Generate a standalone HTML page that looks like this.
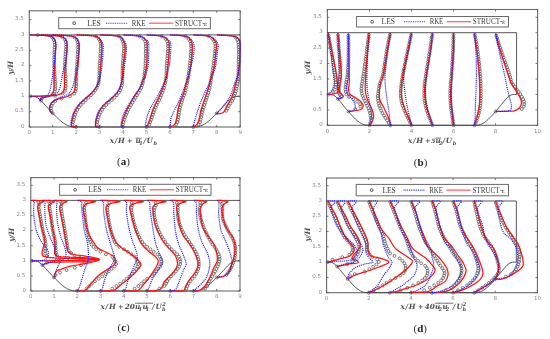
<!DOCTYPE html>
<html><head><meta charset="utf-8"><style>
html,body{margin:0;padding:0;background:#fff;}
svg{display:block;}
.tl{font-family:"DejaVu Sans",sans-serif;font-size:5.5px;fill:#888;}
.tk{stroke:#555;stroke-width:0.8;fill:none;}
.fr{fill:none;stroke:#6a6a6a;stroke-width:1.1;}
.hill{fill:none;stroke:#3a3a3a;stroke-width:0.85;}
.lg{fill:#fff;stroke:#6a6a6a;stroke-width:1;}
.lgr{fill:none;stroke:#ff2a2a;stroke-width:0.95;}
.lgb{fill:none;stroke:#2020ff;stroke-width:1.05;stroke-dasharray:0.9 0.9;}
.lgc{fill:none;stroke:#333;stroke-width:0.8;}
.lt{font-family:"Liberation Serif",serif;font-size:7.3px;fill:#3a3a3a;}
.eps{font-size:6px;font-family:"DejaVu Serif",serif;}
.les circle{fill:none;stroke:#505050;stroke-width:0.72;}
.rke{fill:none;stroke:#2020ff;stroke-width:1.2;stroke-dasharray:1.1 0.9;}
.str{fill:none;stroke:#ff1010;stroke-width:1.25;}
.ax{font-family:"DejaVu Serif",serif;font-style:italic;font-weight:bold;font-size:7.2px;fill:#505050;}
.yl{font-size:7.3px;}
.ol{stroke:#3a3a3a;stroke-width:0.7;fill:none;}
.pn{font-weight:normal;fill:#333;}
.cap{font-family:"Liberation Serif",serif;font-weight:bold;font-size:11px;fill:#222;}
</style></head>
<body><svg width="550" height="339" viewBox="0 0 550 339">
<rect x="29.3" y="10.8" width="210.9" height="116.2" class="fr"/>
<text x="29.3" y="134.3" class="tl" text-anchor="middle">0</text>
<text x="52.73" y="134.3" class="tl" text-anchor="middle">1</text>
<text x="76.17" y="134.3" class="tl" text-anchor="middle">2</text>
<text x="99.6" y="134.3" class="tl" text-anchor="middle">3</text>
<text x="123.03" y="134.3" class="tl" text-anchor="middle">4</text>
<text x="146.47" y="134.3" class="tl" text-anchor="middle">5</text>
<text x="169.9" y="134.3" class="tl" text-anchor="middle">6</text>
<text x="193.33" y="134.3" class="tl" text-anchor="middle">7</text>
<text x="216.77" y="134.3" class="tl" text-anchor="middle">8</text>
<text x="240.2" y="134.3" class="tl" text-anchor="middle">9</text>
<text x="24.6" y="127.8" class="tl" text-anchor="end">0</text>
<text x="23.7" y="112.45" class="tl" text-anchor="end">0.5</text>
<text x="24.6" y="97.1" class="tl" text-anchor="end">1</text>
<text x="23.7" y="81.75" class="tl" text-anchor="end">1.5</text>
<text x="24.6" y="66.4" class="tl" text-anchor="end">2</text>
<text x="23.7" y="51.05" class="tl" text-anchor="end">2.5</text>
<text x="24.6" y="35.7" class="tl" text-anchor="end">3</text>
<text x="23.7" y="20.35" class="tl" text-anchor="end">3.5</text>
<path d="M29.3 127v-2M29.3 10.8v2M52.73 127v-2M52.73 10.8v2M76.17 127v-2M76.17 10.8v2M99.6 127v-2M99.6 10.8v2M123.03 127v-2M123.03 10.8v2M146.47 127v-2M146.47 10.8v2M169.9 127v-2M169.9 10.8v2M193.33 127v-2M193.33 10.8v2M216.77 127v-2M216.77 10.8v2M240.2 127v-2M240.2 10.8v2M29.3 127h2M240.2 127h-2M29.3 111.65h2M240.2 111.65h-2M29.3 96.3h2M240.2 96.3h-2M29.3 80.95h2M240.2 80.95h-2M29.3 65.6h2M240.2 65.6h-2M29.3 50.25h2M240.2 50.25h-2M29.3 34.9h2M240.2 34.9h-2M29.3 19.55h2M240.2 19.55h-2" class="tk"/>
<path d="M29.3 96.3 L31.41 96.3 L33.52 96.41 L35.63 96.88 L37.74 97.93 L39.84 99.57 L41.95 101.65 L44.06 103.95 L46.17 106.32 L48.28 108.61 L50.39 110.84 L52.5 113 L54.61 115.14 L56.72 117.25 L58.83 119.28 L60.93 121.15 L63.04 122.81 L65.15 124.2 L67.26 125.32 L69.37 126.15 L71.48 126.71 L73.59 126.97 L75.7 127 L77.81 127 L79.92 127 L82.02 127 L84.13 127 L86.24 127 L88.35 127 L90.46 127 L92.57 127 L94.68 127 L96.79 127 L98.9 127 L101.01 127 L103.11 127 L105.22 127 L107.33 127 L109.44 127 L111.55 127 L113.66 127 L115.77 127 L117.88 127 L119.99 127 L122.1 127 L124.2 127 L126.31 127 L128.42 127 L130.53 127 L132.64 127 L134.75 127 L136.86 127 L138.97 127 L141.08 127 L143.19 127 L145.29 127 L147.4 127 L149.51 127 L151.62 127 L153.73 127 L155.84 127 L157.95 127 L160.06 127 L162.17 127 L164.28 127 L166.38 127 L168.49 127 L170.6 127 L172.71 127 L174.82 127 L176.93 127 L179.04 127 L181.15 127 L183.26 127 L185.37 127 L187.47 127 L189.58 127 L191.69 127 L193.8 127 L195.91 126.97 L198.02 126.71 L200.13 126.15 L202.24 125.32 L204.35 124.2 L206.46 122.81 L208.56 121.15 L210.67 119.28 L212.78 117.25 L214.89 115.14 L217 113 L219.11 110.84 L221.22 108.61 L223.33 106.32 L225.44 103.95 L227.55 101.65 L229.65 99.57 L231.76 97.93 L233.87 96.88 L235.98 96.41 L238.09 96.3 L240.2 96.3M29.3 34.9H240.2" class="hill"/>
<g class="les"><circle cx="30.47" cy="96.3" r="1.45"/><circle cx="52.73" cy="93.85" r="1.45"/><circle cx="54.6" cy="91.4" r="1.45"/><circle cx="55.31" cy="88.95" r="1.45"/><circle cx="55.39" cy="86.5" r="1.45"/><circle cx="55.25" cy="84.05" r="1.45"/><circle cx="55.1" cy="81.6" r="1.45"/><circle cx="55" cy="79.15" r="1.45"/><circle cx="54.84" cy="76.7" r="1.45"/><circle cx="54.66" cy="74.25" r="1.45"/><circle cx="54.47" cy="71.8" r="1.45"/><circle cx="54.31" cy="69.35" r="1.45"/><circle cx="54.18" cy="66.9" r="1.45"/><circle cx="54.12" cy="64.45" r="1.45"/><circle cx="54.12" cy="62" r="1.45"/><circle cx="54.16" cy="59.55" r="1.45"/><circle cx="54.22" cy="57.1" r="1.45"/><circle cx="54.29" cy="54.65" r="1.45"/><circle cx="54.36" cy="52.2" r="1.45"/><circle cx="54.46" cy="49.75" r="1.45"/><circle cx="54.61" cy="47.3" r="1.45"/><circle cx="54.65" cy="44.85" r="1.45"/><circle cx="54.44" cy="42.4" r="1.45"/><circle cx="53.87" cy="39.95" r="1.45"/><circle cx="52.18" cy="37.5" r="1.45"/><circle cx="37.65" cy="35.05" r="1.45"/></g>
<g class="les"><circle cx="41.02" cy="100.69" r="1.45"/><circle cx="42.1" cy="98.24" r="1.45"/><circle cx="55.07" cy="95.79" r="1.45"/><circle cx="62.63" cy="93.34" r="1.45"/><circle cx="64.9" cy="90.89" r="1.45"/><circle cx="65.46" cy="88.44" r="1.45"/><circle cx="65.72" cy="85.99" r="1.45"/><circle cx="65.78" cy="83.54" r="1.45"/><circle cx="65.73" cy="81.09" r="1.45"/><circle cx="65.65" cy="78.64" r="1.45"/><circle cx="65.55" cy="76.19" r="1.45"/><circle cx="65.38" cy="73.74" r="1.45"/><circle cx="65.19" cy="71.29" r="1.45"/><circle cx="65.02" cy="68.84" r="1.45"/><circle cx="64.93" cy="66.39" r="1.45"/><circle cx="64.94" cy="63.94" r="1.45"/><circle cx="65.02" cy="61.49" r="1.45"/><circle cx="65.16" cy="59.04" r="1.45"/><circle cx="65.32" cy="56.59" r="1.45"/><circle cx="65.49" cy="54.14" r="1.45"/><circle cx="65.65" cy="51.69" r="1.45"/><circle cx="65.86" cy="49.24" r="1.45"/><circle cx="66.09" cy="46.79" r="1.45"/><circle cx="66.11" cy="44.34" r="1.45"/><circle cx="65.79" cy="41.89" r="1.45"/><circle cx="64.88" cy="39.44" r="1.45"/><circle cx="62.14" cy="36.99" r="1.45"/></g>
<g class="les"><circle cx="52.73" cy="113.25" r="1.45"/><circle cx="51.29" cy="110.8" r="1.45"/><circle cx="51.11" cy="108.35" r="1.45"/><circle cx="51.61" cy="105.9" r="1.45"/><circle cx="52.91" cy="103.45" r="1.45"/><circle cx="55.39" cy="101" r="1.45"/><circle cx="61.6" cy="98.55" r="1.45"/><circle cx="70" cy="96.1" r="1.45"/><circle cx="74.12" cy="93.65" r="1.45"/><circle cx="75.59" cy="91.2" r="1.45"/><circle cx="76" cy="88.75" r="1.45"/><circle cx="76.23" cy="86.3" r="1.45"/><circle cx="76.25" cy="83.85" r="1.45"/><circle cx="76.18" cy="81.4" r="1.45"/><circle cx="76.16" cy="78.95" r="1.45"/><circle cx="76.26" cy="76.5" r="1.45"/><circle cx="76.4" cy="74.05" r="1.45"/><circle cx="76.56" cy="71.6" r="1.45"/><circle cx="76.72" cy="69.15" r="1.45"/><circle cx="76.88" cy="66.7" r="1.45"/><circle cx="77.04" cy="64.25" r="1.45"/><circle cx="77.2" cy="61.8" r="1.45"/><circle cx="77.37" cy="59.35" r="1.45"/><circle cx="77.53" cy="56.9" r="1.45"/><circle cx="77.68" cy="54.45" r="1.45"/><circle cx="77.81" cy="52" r="1.45"/><circle cx="77.97" cy="49.55" r="1.45"/><circle cx="78.13" cy="47.1" r="1.45"/><circle cx="78.1" cy="44.65" r="1.45"/><circle cx="77.71" cy="42.2" r="1.45"/><circle cx="76.79" cy="39.75" r="1.45"/><circle cx="74.39" cy="37.3" r="1.45"/></g>
<g class="les"><circle cx="76.17" cy="127" r="1.45"/><circle cx="72.6" cy="124.55" r="1.45"/><circle cx="73" cy="122.1" r="1.45"/><circle cx="73.73" cy="119.65" r="1.45"/><circle cx="74.4" cy="117.2" r="1.45"/><circle cx="75.1" cy="114.75" r="1.45"/><circle cx="76.01" cy="112.3" r="1.45"/><circle cx="77.3" cy="109.85" r="1.45"/><circle cx="78.92" cy="107.4" r="1.45"/><circle cx="80.83" cy="104.95" r="1.45"/><circle cx="83.16" cy="102.5" r="1.45"/><circle cx="85.77" cy="100.05" r="1.45"/><circle cx="88.38" cy="97.6" r="1.45"/><circle cx="91.08" cy="95.15" r="1.45"/><circle cx="93.44" cy="92.7" r="1.45"/><circle cx="95.29" cy="90.25" r="1.45"/><circle cx="96.76" cy="87.8" r="1.45"/><circle cx="97.82" cy="85.35" r="1.45"/><circle cx="98.52" cy="82.9" r="1.45"/><circle cx="98.97" cy="80.45" r="1.45"/><circle cx="99.09" cy="78" r="1.45"/><circle cx="99.17" cy="75.55" r="1.45"/><circle cx="99.29" cy="73.1" r="1.45"/><circle cx="99.4" cy="70.65" r="1.45"/><circle cx="99.53" cy="68.2" r="1.45"/><circle cx="99.66" cy="65.75" r="1.45"/><circle cx="99.82" cy="63.3" r="1.45"/><circle cx="99.99" cy="60.85" r="1.45"/><circle cx="100.15" cy="58.4" r="1.45"/><circle cx="100.31" cy="55.95" r="1.45"/><circle cx="100.46" cy="53.5" r="1.45"/><circle cx="100.6" cy="51.05" r="1.45"/><circle cx="100.77" cy="48.6" r="1.45"/><circle cx="100.86" cy="46.15" r="1.45"/><circle cx="100.63" cy="43.7" r="1.45"/><circle cx="99.96" cy="41.25" r="1.45"/><circle cx="98.74" cy="38.8" r="1.45"/><circle cx="95.95" cy="36.35" r="1.45"/></g>
<g class="les"><circle cx="99.6" cy="127" r="1.45"/><circle cx="96.7" cy="124.55" r="1.45"/><circle cx="97.15" cy="122.1" r="1.45"/><circle cx="97.86" cy="119.65" r="1.45"/><circle cx="98.63" cy="117.2" r="1.45"/><circle cx="99.49" cy="114.75" r="1.45"/><circle cx="100.59" cy="112.3" r="1.45"/><circle cx="102.1" cy="109.85" r="1.45"/><circle cx="103.98" cy="107.4" r="1.45"/><circle cx="106.17" cy="104.95" r="1.45"/><circle cx="108.85" cy="102.5" r="1.45"/><circle cx="111.78" cy="100.05" r="1.45"/><circle cx="114.38" cy="97.6" r="1.45"/><circle cx="116.83" cy="95.15" r="1.45"/><circle cx="118.76" cy="92.7" r="1.45"/><circle cx="120.12" cy="90.25" r="1.45"/><circle cx="121.12" cy="87.8" r="1.45"/><circle cx="121.84" cy="85.35" r="1.45"/><circle cx="122.2" cy="82.9" r="1.45"/><circle cx="122.28" cy="80.45" r="1.45"/><circle cx="122.33" cy="78" r="1.45"/><circle cx="122.39" cy="75.55" r="1.45"/><circle cx="122.42" cy="73.1" r="1.45"/><circle cx="122.45" cy="70.65" r="1.45"/><circle cx="122.51" cy="68.2" r="1.45"/><circle cx="122.63" cy="65.75" r="1.45"/><circle cx="122.81" cy="63.3" r="1.45"/><circle cx="123.03" cy="60.85" r="1.45"/><circle cx="123.26" cy="58.4" r="1.45"/><circle cx="123.48" cy="55.95" r="1.45"/><circle cx="123.66" cy="53.5" r="1.45"/><circle cx="123.78" cy="51.05" r="1.45"/><circle cx="123.89" cy="48.6" r="1.45"/><circle cx="123.88" cy="46.15" r="1.45"/><circle cx="123.54" cy="43.7" r="1.45"/><circle cx="122.72" cy="41.25" r="1.45"/><circle cx="121.53" cy="38.8" r="1.45"/><circle cx="118.96" cy="36.35" r="1.45"/></g>
<g class="les"><circle cx="123.03" cy="127" r="1.45"/><circle cx="122.87" cy="124.55" r="1.45"/><circle cx="123.54" cy="122.1" r="1.45"/><circle cx="124.33" cy="119.65" r="1.45"/><circle cx="125.19" cy="117.2" r="1.45"/><circle cx="126.13" cy="114.75" r="1.45"/><circle cx="127.17" cy="112.3" r="1.45"/><circle cx="128.31" cy="109.85" r="1.45"/><circle cx="129.57" cy="107.4" r="1.45"/><circle cx="130.96" cy="104.95" r="1.45"/><circle cx="132.44" cy="102.5" r="1.45"/><circle cx="133.95" cy="100.05" r="1.45"/><circle cx="135.46" cy="97.6" r="1.45"/><circle cx="137" cy="95.15" r="1.45"/><circle cx="138.61" cy="92.7" r="1.45"/><circle cx="140.1" cy="90.25" r="1.45"/><circle cx="141.29" cy="87.8" r="1.45"/><circle cx="142.1" cy="85.35" r="1.45"/><circle cx="142.71" cy="82.9" r="1.45"/><circle cx="143.32" cy="80.45" r="1.45"/><circle cx="143.98" cy="78" r="1.45"/><circle cx="144.4" cy="75.55" r="1.45"/><circle cx="144.72" cy="73.1" r="1.45"/><circle cx="144.97" cy="70.65" r="1.45"/><circle cx="145.19" cy="68.2" r="1.45"/><circle cx="145.37" cy="65.75" r="1.45"/><circle cx="145.49" cy="63.3" r="1.45"/><circle cx="145.58" cy="60.85" r="1.45"/><circle cx="145.65" cy="58.4" r="1.45"/><circle cx="145.7" cy="55.95" r="1.45"/><circle cx="145.74" cy="53.5" r="1.45"/><circle cx="145.78" cy="51.05" r="1.45"/><circle cx="145.84" cy="48.6" r="1.45"/><circle cx="145.85" cy="46.15" r="1.45"/><circle cx="145.69" cy="43.7" r="1.45"/><circle cx="145.17" cy="41.25" r="1.45"/><circle cx="143.35" cy="38.8" r="1.45"/><circle cx="139.66" cy="36.35" r="1.45"/></g>
<g class="les"><circle cx="146.47" cy="127" r="1.45"/><circle cx="149.21" cy="124.55" r="1.45"/><circle cx="150.23" cy="122.1" r="1.45"/><circle cx="151.14" cy="119.65" r="1.45"/><circle cx="151.98" cy="117.2" r="1.45"/><circle cx="152.82" cy="114.75" r="1.45"/><circle cx="153.69" cy="112.3" r="1.45"/><circle cx="154.58" cy="109.85" r="1.45"/><circle cx="155.53" cy="107.4" r="1.45"/><circle cx="156.62" cy="104.95" r="1.45"/><circle cx="157.87" cy="102.5" r="1.45"/><circle cx="159.17" cy="100.05" r="1.45"/><circle cx="160.36" cy="97.6" r="1.45"/><circle cx="161.39" cy="95.15" r="1.45"/><circle cx="162.34" cy="92.7" r="1.45"/><circle cx="163.2" cy="90.25" r="1.45"/><circle cx="163.96" cy="87.8" r="1.45"/><circle cx="164.66" cy="85.35" r="1.45"/><circle cx="165.27" cy="82.9" r="1.45"/><circle cx="165.75" cy="80.45" r="1.45"/><circle cx="166.09" cy="78" r="1.45"/><circle cx="166.27" cy="75.55" r="1.45"/><circle cx="166.37" cy="73.1" r="1.45"/><circle cx="166.45" cy="70.65" r="1.45"/><circle cx="166.54" cy="68.2" r="1.45"/><circle cx="166.7" cy="65.75" r="1.45"/><circle cx="166.89" cy="63.3" r="1.45"/><circle cx="167.1" cy="60.85" r="1.45"/><circle cx="167.31" cy="58.4" r="1.45"/><circle cx="167.52" cy="55.95" r="1.45"/><circle cx="167.7" cy="53.5" r="1.45"/><circle cx="167.85" cy="51.05" r="1.45"/><circle cx="168.02" cy="48.6" r="1.45"/><circle cx="168.1" cy="46.15" r="1.45"/><circle cx="167.91" cy="43.7" r="1.45"/><circle cx="167.2" cy="41.25" r="1.45"/><circle cx="165.43" cy="38.8" r="1.45"/><circle cx="161.99" cy="36.35" r="1.45"/></g>
<g class="les"><circle cx="169.9" cy="127" r="1.45"/><circle cx="176.08" cy="124.55" r="1.45"/><circle cx="177.43" cy="122.1" r="1.45"/><circle cx="177.99" cy="119.65" r="1.45"/><circle cx="178.45" cy="117.2" r="1.45"/><circle cx="178.82" cy="114.75" r="1.45"/><circle cx="179.15" cy="112.3" r="1.45"/><circle cx="179.54" cy="109.85" r="1.45"/><circle cx="180.1" cy="107.4" r="1.45"/><circle cx="180.77" cy="104.95" r="1.45"/><circle cx="181.52" cy="102.5" r="1.45"/><circle cx="182.3" cy="100.05" r="1.45"/><circle cx="183.14" cy="97.6" r="1.45"/><circle cx="184.05" cy="95.15" r="1.45"/><circle cx="184.87" cy="92.7" r="1.45"/><circle cx="185.53" cy="90.25" r="1.45"/><circle cx="186.08" cy="87.8" r="1.45"/><circle cx="186.61" cy="85.35" r="1.45"/><circle cx="187.13" cy="82.9" r="1.45"/><circle cx="187.61" cy="80.45" r="1.45"/><circle cx="188.05" cy="78" r="1.45"/><circle cx="188.45" cy="75.55" r="1.45"/><circle cx="188.81" cy="73.1" r="1.45"/><circle cx="189.13" cy="70.65" r="1.45"/><circle cx="189.42" cy="68.2" r="1.45"/><circle cx="189.71" cy="65.75" r="1.45"/><circle cx="189.98" cy="63.3" r="1.45"/><circle cx="190.25" cy="60.85" r="1.45"/><circle cx="190.5" cy="58.4" r="1.45"/><circle cx="190.72" cy="55.95" r="1.45"/><circle cx="190.91" cy="53.5" r="1.45"/><circle cx="191.04" cy="51.05" r="1.45"/><circle cx="191.13" cy="48.6" r="1.45"/><circle cx="191.11" cy="46.15" r="1.45"/><circle cx="190.85" cy="43.7" r="1.45"/><circle cx="190.16" cy="41.25" r="1.45"/><circle cx="188.59" cy="38.8" r="1.45"/><circle cx="185.47" cy="36.35" r="1.45"/></g>
<g class="les"><circle cx="193.33" cy="127" r="1.45"/><circle cx="198.48" cy="124.55" r="1.45"/><circle cx="199.84" cy="122.1" r="1.45"/><circle cx="200.56" cy="119.65" r="1.45"/><circle cx="201.23" cy="117.2" r="1.45"/><circle cx="201.79" cy="114.75" r="1.45"/><circle cx="202.27" cy="112.3" r="1.45"/><circle cx="202.87" cy="109.85" r="1.45"/><circle cx="203.62" cy="107.4" r="1.45"/><circle cx="204.43" cy="104.95" r="1.45"/><circle cx="205.23" cy="102.5" r="1.45"/><circle cx="206.02" cy="100.05" r="1.45"/><circle cx="206.81" cy="97.6" r="1.45"/><circle cx="207.58" cy="95.15" r="1.45"/><circle cx="208.31" cy="92.7" r="1.45"/><circle cx="208.98" cy="90.25" r="1.45"/><circle cx="209.61" cy="87.8" r="1.45"/><circle cx="210.17" cy="85.35" r="1.45"/><circle cx="210.63" cy="82.9" r="1.45"/><circle cx="210.96" cy="80.45" r="1.45"/><circle cx="211.27" cy="78" r="1.45"/><circle cx="211.67" cy="75.55" r="1.45"/><circle cx="212.14" cy="73.1" r="1.45"/><circle cx="212.61" cy="70.65" r="1.45"/><circle cx="213.04" cy="68.2" r="1.45"/><circle cx="213.4" cy="65.75" r="1.45"/><circle cx="213.72" cy="63.3" r="1.45"/><circle cx="214.01" cy="60.85" r="1.45"/><circle cx="214.28" cy="58.4" r="1.45"/><circle cx="214.53" cy="55.95" r="1.45"/><circle cx="214.77" cy="53.5" r="1.45"/><circle cx="214.99" cy="51.05" r="1.45"/><circle cx="215.28" cy="48.6" r="1.45"/><circle cx="215.45" cy="46.15" r="1.45"/><circle cx="215.16" cy="43.7" r="1.45"/><circle cx="214.09" cy="41.25" r="1.45"/><circle cx="212.25" cy="38.8" r="1.45"/><circle cx="208.86" cy="36.35" r="1.45"/></g>
<g class="les"><circle cx="216.77" cy="113.25" r="1.45"/><circle cx="226.34" cy="110.8" r="1.45"/><circle cx="227.65" cy="108.35" r="1.45"/><circle cx="228.74" cy="105.9" r="1.45"/><circle cx="230.39" cy="103.45" r="1.45"/><circle cx="232.14" cy="101" r="1.45"/><circle cx="233.36" cy="98.55" r="1.45"/><circle cx="234.32" cy="96.1" r="1.45"/><circle cx="235.13" cy="93.65" r="1.45"/><circle cx="235.85" cy="91.2" r="1.45"/><circle cx="236.5" cy="88.75" r="1.45"/><circle cx="237.05" cy="86.3" r="1.45"/><circle cx="237.47" cy="83.85" r="1.45"/><circle cx="237.8" cy="81.4" r="1.45"/><circle cx="238.05" cy="78.95" r="1.45"/><circle cx="238.21" cy="76.5" r="1.45"/><circle cx="238.32" cy="74.05" r="1.45"/><circle cx="238.4" cy="71.6" r="1.45"/><circle cx="238.46" cy="69.15" r="1.45"/><circle cx="238.53" cy="66.7" r="1.45"/><circle cx="238.6" cy="64.25" r="1.45"/><circle cx="238.67" cy="61.8" r="1.45"/><circle cx="238.73" cy="59.35" r="1.45"/><circle cx="238.77" cy="56.9" r="1.45"/><circle cx="238.79" cy="54.45" r="1.45"/><circle cx="238.79" cy="52" r="1.45"/><circle cx="238.8" cy="49.55" r="1.45"/><circle cx="238.78" cy="47.1" r="1.45"/><circle cx="238.63" cy="44.65" r="1.45"/><circle cx="238.23" cy="42.2" r="1.45"/><circle cx="237.35" cy="39.75" r="1.45"/><circle cx="235.41" cy="37.3" r="1.45"/></g>
<path d="M30.5 96.3C34 96.2 37.7 96.3 41 96.1C43.9 96 47.2 96.1 49.2 95.5C50.5 95.2 51.5 94.9 52.3 94.2C53 93.4 53.3 92.2 53.7 90.8C54.2 88.4 54 84.6 54.1 81C54.3 76.4 54.4 70.6 54.6 65.6C54.8 60.9 55.4 55.7 55.5 51.8C55.7 48.9 56 46.3 55.8 44.1C55.6 42.4 55.4 40.8 54.6 39.5C53.9 38.3 53 37.4 51.6 36.7C49.6 35.8 46.4 35.7 43.4 35.4C39.6 35 34.8 35.1 30.5 34.9" class="str"/>
<path d="M41 100.7C40.5 100.4 39.6 100.1 39.6 99.7C39.6 99.2 40.7 98.6 41.7 98.1C43.4 97.4 46.6 96.9 49.2 96.3C51.9 95.7 55.2 95.5 57.7 94.8C59.7 94.1 61.9 93.6 63 92.3C64.1 91 64.2 89.1 64.4 87.1C64.8 84.5 64.3 81.2 64.4 77.9C64.6 74.1 65.2 69.8 65.6 65.6C66 61.2 66.6 56 66.8 52.1C67 49.1 67.3 46.4 67 44.1C66.8 42.3 66.5 40.7 65.6 39.5C64.8 38.3 63.7 37.4 62.1 36.7C59.8 35.8 56 35.7 52.7 35.4C49.1 35 44.9 35.1 41 34.9" class="str"/>
<path d="M52.7 113.2C52.1 113 51.4 113 50.9 112.6C50.2 112 49.7 110.8 49.5 109.8C49.2 108.7 49.3 107.3 49.7 106.1C50.2 104.7 51.2 103 52.5 101.8C53.8 100.6 55.8 99.8 57.7 99.1C59.7 98.3 62.1 98.2 64.2 97.5C66.4 96.8 68.8 95.8 70.5 94.8C71.9 93.9 73 93.2 73.8 92C74.7 90.7 74.9 89 75.2 87.1C75.7 84.7 75.6 81.8 75.9 78.8C76.4 75.2 77.3 71 77.8 66.8C78.4 62.2 78.8 56.3 79 52.1C79.1 49 79.4 46.4 79 44.1C78.7 42.3 78.2 40.7 77.3 39.5C76.5 38.3 75.4 37.4 73.8 36.7C71.5 35.8 67.8 35.7 64.4 35.4C60.8 35 56.6 35.1 52.7 34.9" class="str"/>
<path d="M76.2 127C74.8 126.8 72.7 127 71.9 126.4C71.5 126 71.5 125.3 71.5 124.5C71.4 123.3 71.8 121.2 72.2 119.3C72.7 117.1 73.4 114.3 74.5 112C75.6 109.6 77.1 107.3 78.7 105.2C80.4 103.1 82.5 101.4 84.6 99.4C86.9 97.2 90 94.9 92.1 92.6C93.9 90.7 95.4 88.8 96.6 86.8C97.6 84.9 98.4 82.8 98.9 81C99.3 79.4 99.4 78.2 99.6 76.3C99.9 73.7 100.2 70.3 100.5 66.8C100.9 62.5 101.5 56.2 101.7 52.1C101.8 49.2 102 46.8 101.7 44.7C101.4 43.1 101 41.7 100.3 40.4C99.6 39.1 98.8 37.6 97.3 36.7C95.1 35.5 91.2 35.7 87.9 35.4C84.2 35 80.1 35.1 76.2 34.9" class="str"/>
<path d="M99.6 127C98.4 126.9 96.5 127.3 95.9 126.7C95.3 126.2 95.6 125 95.6 123.9C95.7 122.6 95.9 121 96.3 119.3C96.9 117.1 97.7 114.3 98.9 112C100.2 109.6 101.9 107.3 103.8 105.2C105.9 102.9 109 100.9 111.3 98.8C113.4 96.7 115.6 94.9 117.2 92.6C118.8 90.4 120.1 87.8 120.9 85.2C121.7 82.8 122 80.6 122.3 77.9C122.7 74.6 122.7 70.8 123 66.8C123.5 62.3 124.6 56.2 124.9 52.1C125.1 49.2 125.3 46.8 124.9 44.7C124.6 43.1 123.8 41.8 123 40.4C122.3 39.1 121.7 37.6 120.2 36.7C118.2 35.6 114.5 35.7 111.3 35.4C107.7 35 103.5 35.1 99.6 34.9" class="str"/>
<path d="M123 127C122.6 126.9 121.9 127 121.6 126.7C121.3 126.2 121.7 125 121.9 123.9C122.1 122.6 122.5 121 123 119.3C123.6 117.4 124.5 115.2 125.4 113.2C126.2 111.2 126.8 109.5 128 107.4C129.5 104.4 131.8 100.5 133.8 97.2C135.7 94.1 138.1 91.2 139.7 88.3C141 85.8 141.9 83 142.7 81C143.3 79.5 143.7 78.8 144.1 77.3C144.9 74.7 146 70.6 146.5 66.8C147.1 62.4 147.1 56.2 147.2 52.1C147.2 49.2 147.4 46.8 147.2 44.7C147 43.3 147.2 42.2 146.5 41C145.6 39.5 143.4 37.7 141.3 36.7C138.9 35.6 135.4 35.7 132.4 35.4C129.3 35 126.2 35.1 123 34.9" class="str"/>
<path d="M146.5 127C146.9 126.2 147.4 125.5 147.9 124.5C148.4 123.5 148.8 122.3 149.3 120.9C150 118.8 150.8 115.9 151.6 113.5C152.5 111 153.3 108.7 154.4 106.1C155.7 103.3 157.5 100.2 158.9 97.2C160.2 94.3 161.5 91.3 162.6 88.3C163.8 85.4 164.9 82.7 165.7 79.4C166.6 75.6 167.2 71.2 167.8 66.8C168.4 62.1 169 56.2 169.2 52.1C169.3 49.2 169.4 46.8 169.2 44.7C169.1 43.3 169.2 42.2 168.5 41C167.6 39.5 165.4 37.7 163.3 36.7C161.2 35.7 158.5 35.7 155.8 35.4C152.9 35 149.6 35.1 146.5 34.9" class="str"/>
<path d="M169.9 127C171.1 126.5 172.5 126.1 173.4 125.5C174.1 125 174.6 124.7 175.1 123.9C175.8 122.6 176.2 120 176.7 117.8C177.3 115.1 177.4 111.8 178.1 108.9C178.8 105.9 179.9 102.8 180.9 100C181.9 97.4 183.2 95 184 92.6C184.6 90.6 184.8 89 185.4 86.8C186.2 84 187.6 80.5 188.4 77.3C189.3 73.9 189.9 70.6 190.5 66.8C191.2 62.4 191.9 56.2 192.2 52.1C192.3 49.2 192.4 46.7 192.2 44.7C192 43.3 191.9 42.2 191.2 41C190.4 39.5 188.8 37.7 187 36.7C184.9 35.7 182 35.7 179.3 35.4C176.3 35 173 35.1 169.9 34.9" class="str"/>
<path d="M193.3 127C194.7 126 196.3 125.3 197.3 123.9C198.4 122.4 198.9 120 199.4 117.8C200 115.5 200.2 112.9 200.8 110.4C201.5 107.9 202.3 105.7 203.2 103.1C204.3 99.9 205.8 95.9 206.9 92.6C208 89.6 209 86.7 209.7 84C210.4 81.7 210.5 79.7 211.1 77.3C211.9 74.2 213.4 70.6 214.2 66.8C215.1 62.4 215.4 56.2 215.8 52.1C216.1 49.2 216.9 46.7 216.5 44.7C216.3 43.2 215.7 42.2 214.9 41C213.9 39.6 212.3 37.7 210.4 36.7C208.3 35.7 205.4 35.7 202.7 35.4C199.7 35 196.5 35.1 193.3 34.9" class="str"/>
<path d="M216.8 113.2C218.1 113.3 219.5 113.7 220.8 113.5C221.9 113.3 222.9 112.8 223.8 112C225 110.7 225.8 108.1 226.8 106.1C228 104.1 229.3 102.2 230.4 100C231.5 97.7 232.6 95.2 233.4 92.6C234.3 89.9 234.8 86.6 235.5 84C236.1 81.8 236.8 80.3 237.4 77.9C238.2 74.5 238.8 69.8 239.3 65.6C239.7 61.2 239.8 56 240 52.1C240.1 49.1 240.4 46.4 240.2 44.1C240 42.4 240 41 239.3 39.8C238.5 38.5 237.2 37.5 235.5 36.7C233.2 35.7 229.3 35.7 226.1 35.4C223 35.1 219.9 35.1 216.8 34.9" class="str"/>
<path d="M30.5 96.3C34 96.2 37.9 96.5 41 96.1C43.6 95.8 46.4 96 48 94.5C49.9 92.8 50.1 88.7 50.9 85.9C51.5 83.2 51.8 80.8 52.3 77.9C52.8 74.2 53.4 69.8 53.9 65.6C54.4 61.1 55 55.7 55.3 51.8C55.5 48.9 56 46.3 55.8 44.1C55.6 42.4 55.4 40.8 54.6 39.5C53.9 38.3 53 37.4 51.6 36.7C49.6 35.8 46.4 35.7 43.4 35.4C39.6 35 34.8 35.1 30.5 34.9" class="rke"/>
<path d="M41 100.7C40.6 100.3 39.8 99.8 39.8 99.4C40 98.7 41.9 98.1 43.4 97.5C45.5 96.7 49.2 96.2 51.6 95.4C53.5 94.7 55.4 94.4 56.7 93.2C58.1 92 58.9 90.3 59.8 88C61.2 84.2 61.9 76.7 63 72C63.9 68.5 65 65.8 65.6 62.5C66.3 59.2 66.6 55.3 66.8 52.1C67 49.3 67.3 46.4 67 44.1C66.8 42.3 66.5 40.7 65.6 39.5C64.8 38.3 63.7 37.4 62.1 36.7C59.8 35.8 56 35.7 52.7 35.4C49.1 35 44.9 35.1 41 34.9" class="rke"/>
<path d="M52.7 113.2C52.2 112.9 51.5 112.8 51.1 112.3C50.5 111.6 50.1 110.3 49.9 109.2C49.8 108 49.9 106.7 50.4 105.5C50.9 104.1 51.9 102.4 53.2 101.2C54.6 99.9 56.7 99 58.6 98.1C60.5 97.3 62.6 96.8 64.4 96C66.1 95.2 67.9 94.5 69.1 93.2C70.4 92 71.1 90.4 71.9 88.6C72.9 86.4 73.6 83.8 74.3 81C75.2 77.4 76 73 76.6 68.7C77.4 63.9 78.1 57.8 78.5 53.3C78.8 49.9 79.3 46.6 79 44.1C78.7 42.3 78.2 40.7 77.3 39.5C76.5 38.3 75.4 37.4 73.8 36.7C71.5 35.8 67.8 35.7 64.4 35.4C60.8 35 56.6 35.1 52.7 34.9" class="rke"/>
<path d="M76.2 127C74.6 126.8 72.2 127.1 71.5 126.4C71 126 71.1 125.3 71 124.5C70.9 123.3 71.1 121.2 71.5 119.3C71.9 117.1 72.7 114.3 73.8 112C74.9 109.6 76.4 107.3 78 105.2C79.7 103.1 81.8 101.4 83.9 99.4C86.3 97.2 89.5 94.9 91.6 92.6C93.5 90.7 95.1 88.8 96.3 86.8C97.5 84.9 98.2 82.8 98.9 81C99.5 79.3 99.8 78.2 100.3 76.3C100.8 73.8 101.4 70.4 101.8 66.8C102.4 62.5 102.8 56.2 103 52.1C103.1 49.2 103.4 46.8 103 44.7C102.7 43.1 102.1 41.7 101.2 40.4C100.3 39 99 37.6 97.3 36.7C94.9 35.6 91.2 35.7 87.9 35.4C84.2 35 80.1 35.1 76.2 34.9" class="rke"/>
<path d="M99.6 127C98.4 126.9 96.5 127.3 95.9 126.7C95.3 126.2 95.4 125 95.4 123.9C95.3 122.6 95.5 121 95.9 119.3C96.3 117.1 97 114.3 98.2 112C99.4 109.6 101.2 107.3 103.1 105.2C105.2 102.9 108.3 100.9 110.6 98.8C112.8 96.7 115 94.9 116.7 92.6C118.4 90.4 119.7 87.8 120.7 85.2C121.7 82.8 122.3 80.6 122.9 77.9C123.6 74.6 123.8 70.8 124.3 66.8C124.9 62.3 125.9 56.2 126.2 52.1C126.4 49.2 126.7 46.8 126.2 44.7C125.8 43 124.9 41.7 124 40.4C123 39.1 121.9 37.6 120.2 36.7C118 35.6 114.5 35.7 111.3 35.4C107.7 35 103.5 35.1 99.6 34.9" class="rke"/>
<path d="M123 127C122.4 126.8 121.5 126.8 121.2 126.4C120.8 125.9 121.1 124.9 121.2 123.9C121.3 122.6 121.5 121 121.9 119.3C122.3 117.4 123.1 115.2 124 113.2C124.8 111.2 125.8 109.5 127 107.4C128.7 104.4 131.2 100.5 133.3 97.2C135.4 94.1 137.8 91.2 139.4 88.3C140.9 85.8 141.9 83 143 81C143.7 79.5 144.3 78.9 144.9 77.3C146 74.7 147.1 70.6 147.8 66.8C148.5 62.4 148.6 56.2 148.7 52.1C148.8 49.2 149 46.7 148.7 44.7C148.5 43.3 148.4 42.2 147.5 41C146.4 39.5 144.1 37.7 141.8 36.7C139.1 35.6 135.5 35.7 132.4 35.4C129.3 35.1 126.2 35.1 123 34.9" class="rke"/>
<path d="M146.5 127C146.2 126.6 145.7 126.3 145.5 125.8C145.3 125 145.6 123.7 145.8 122.4C146 120.6 146.6 118.3 147.2 116.3C147.8 114.2 148.6 112.1 149.5 110.1C150.4 108.2 151.2 106.5 152.3 104.6C153.6 102.3 155.5 99.8 157 97.2C158.6 94.4 160 91.3 161.5 88.3C162.9 85.4 164.4 82.7 165.6 79.4C167 75.6 168.2 71.2 169.1 66.8C170 62.1 170.5 56.2 170.7 52.1C170.9 49.2 171 46.7 170.7 44.7C170.5 43.3 170.4 42.2 169.6 41C168.4 39.5 165.8 37.7 163.6 36.7C161.3 35.8 158.6 35.7 155.8 35.4C152.9 35 149.6 35.1 146.5 34.9" class="rke"/>
<path d="M169.9 127C170.1 126 170.2 125.1 170.4 123.9C170.5 122.6 170.4 121 170.8 119.3C171.4 117.1 172.5 114.5 173.6 112C174.9 109.1 176.8 105.8 178.1 103.1C179.2 100.7 180 98.6 180.9 96.3C181.9 93.8 183 91.3 184 88.6C185 85.7 186.1 82.7 187.2 79.4C188.4 75.6 189.8 71.2 190.9 66.8C192 62.1 193.5 56.2 193.9 52.1C194.2 49.2 194.3 46.7 193.9 44.7C193.7 43.3 193.4 42.2 192.5 41C191.5 39.5 189.5 37.7 187.5 36.7C185.2 35.7 182.1 35.7 179.3 35.4C176.3 35 173 35.1 169.9 34.9" class="rke"/>
<path d="M193.3 127C193.6 125.4 193.8 124 194.3 122.1C195 119.3 196.2 115.5 197.3 112C198.6 108.1 199.9 104 201.5 100C203.2 95.7 205.6 91 207.4 87.1C208.9 83.8 210.1 81.1 211.4 77.9C212.8 74.4 214.5 70.8 215.5 66.8C216.6 62.3 216.9 56.2 217.4 52.1C217.7 49.2 218.4 46.7 218.1 44.7C217.8 43.2 217.2 42.2 216.2 41C215 39.5 213 37.7 210.9 36.7C208.6 35.7 205.5 35.7 202.7 35.4C199.7 35 196.5 35.1 193.3 34.9" class="rke"/>
<path d="M216.8 113.2C218.6 111.3 220.7 109.4 222.4 107.4C224 105.4 225.5 103.6 226.8 101.5C228.3 99.4 229.7 97.3 230.8 94.8C232.2 91.7 233.1 87.4 234.3 84C235.5 80.8 237 78.2 237.9 74.8C238.8 71.1 239.3 66.5 239.7 62.5C240.1 58.9 240.1 55.3 240.2 52.1C240.3 49.3 240.4 46.4 240.2 44.1C240.1 42.5 240.2 41 239.5 39.8C238.7 38.5 237.2 37.5 235.5 36.7C233.1 35.7 229.3 35.7 226.1 35.4C223 35.1 219.9 35.1 216.8 34.9" class="rke"/>
<rect x="58.7" y="17.6" width="151.7" height="11.1" class="lg"/>
<circle cx="74.2" cy="23.15" r="1.4" class="lgc"/>
<text x="87.3" y="25.65" class="lt" textLength="13.4" lengthAdjust="spacingAndGlyphs">LES</text>
<path d="M106.1 23.15H127.9" class="lgb"/>
<text x="131.8" y="25.65" class="lt" textLength="13.6" lengthAdjust="spacingAndGlyphs">RKE</text>
<path d="M148.9 23.15H173.1" class="lgr"/>
<text x="174.9" y="25.65" class="lt" textLength="27.2" lengthAdjust="spacingAndGlyphs">STRUCT</text>
<text x="202.2" y="25.65" class="lt">-</text>
<text x="204.1" y="25.75" class="lt eps">ε</text>
<rect x="327.4" y="9.5" width="210.2" height="115.8" class="fr"/>
<text x="327.4" y="132.6" class="tl" text-anchor="middle">0</text>
<text x="369.44" y="132.6" class="tl" text-anchor="middle">2</text>
<text x="411.48" y="132.6" class="tl" text-anchor="middle">4</text>
<text x="453.52" y="132.6" class="tl" text-anchor="middle">6</text>
<text x="495.56" y="132.6" class="tl" text-anchor="middle">8</text>
<text x="537.6" y="132.6" class="tl" text-anchor="middle">10</text>
<text x="322.7" y="126.1" class="tl" text-anchor="end">0</text>
<text x="321.8" y="110.66" class="tl" text-anchor="end">0.5</text>
<text x="322.7" y="95.23" class="tl" text-anchor="end">1</text>
<text x="321.8" y="79.8" class="tl" text-anchor="end">1.5</text>
<text x="322.7" y="64.36" class="tl" text-anchor="end">2</text>
<text x="321.8" y="48.92" class="tl" text-anchor="end">2.5</text>
<text x="322.7" y="33.49" class="tl" text-anchor="end">3</text>
<text x="321.8" y="18.05" class="tl" text-anchor="end">3.5</text>
<path d="M327.4 125.3v-2M327.4 9.5v2M369.44 125.3v-2M369.44 9.5v2M411.48 125.3v-2M411.48 9.5v2M453.52 125.3v-2M453.52 9.5v2M495.56 125.3v-2M495.56 9.5v2M537.6 125.3v-2M537.6 9.5v2M327.4 125.3h2M537.6 125.3h-2M327.4 109.86h2M537.6 109.86h-2M327.4 94.43h2M537.6 94.43h-2M327.4 79h2M537.6 79h-2M327.4 63.56h2M537.6 63.56h-2M327.4 48.12h2M537.6 48.12h-2M327.4 32.69h2M537.6 32.69h-2M327.4 17.25h2M537.6 17.25h-2" class="tk"/>
<path d="M327.4 94.43 L329.29 94.43 L331.18 94.54 L333.08 95.02 L334.97 96.06 L336.86 97.72 L338.75 99.8 L340.64 102.12 L342.53 104.5 L344.43 106.81 L346.32 109.05 L348.21 111.23 L350.1 113.38 L351.99 115.5 L353.89 117.53 L355.78 119.42 L357.67 121.09 L359.56 122.49 L361.45 123.61 L363.34 124.45 L365.24 125 L367.13 125.27 L369.02 125.3 L370.91 125.3 L372.8 125.3 L374.69 125.3 L376.59 125.3 L378.48 125.3 L380.37 125.3 L382.26 125.3 L384.15 125.3 L386.05 125.3 L387.94 125.3 L389.83 125.3 L391.72 125.3 L393.61 125.3 L395.5 125.3 L397.4 125.3 L399.29 125.3 L401.18 125.3 L403.07 125.3 L404.96 125.3 L406.86 125.3 L408.75 125.3 L410.64 125.3 L412.53 125.3 L414.42 125.3 L416.31 125.3 L418.21 125.3 L420.1 125.3 L421.99 125.3 L423.88 125.3 L425.77 125.3 L427.67 125.3 L429.56 125.3 L431.45 125.3 L433.34 125.3 L435.23 125.3 L437.12 125.3 L439.02 125.3 L440.91 125.3 L442.8 125.3 L444.69 125.3 L446.58 125.3 L448.48 125.3 L450.37 125.3 L452.26 125.3 L454.15 125.3 L456.04 125.3 L457.93 125.3 L459.83 125.3 L461.72 125.3 L463.61 125.3 L465.5 125.3 L467.39 125.3 L469.28 125.3 L471.18 125.3 L473.07 125.3 L474.96 125.3 L476.85 125.27 L478.74 125 L480.64 124.45 L482.53 123.61 L484.42 122.49 L486.31 121.09 L488.2 119.42 L490.09 117.53 L491.99 115.5 L493.88 113.38 L495.77 111.23 L497.66 109.05 L499.55 106.81 L501.45 104.5 L503.34 102.12 L505.23 99.8 L507.12 97.72 L509.01 96.06 L510.9 95.02 L512.8 94.54 L514.69 94.43 L516.58 94.43M327.4 32.69H516.58V94.43" class="hill"/>
<g class="les"><circle cx="328.45" cy="94.43" r="1.45"/><circle cx="333.01" cy="91.98" r="1.45"/><circle cx="334.86" cy="89.53" r="1.45"/><circle cx="335.59" cy="87.08" r="1.45"/><circle cx="335.82" cy="84.63" r="1.45"/><circle cx="335.78" cy="82.18" r="1.45"/><circle cx="335.62" cy="79.73" r="1.45"/><circle cx="335.42" cy="77.28" r="1.45"/><circle cx="335.21" cy="74.83" r="1.45"/><circle cx="334.89" cy="72.38" r="1.45"/><circle cx="334.53" cy="69.93" r="1.45"/><circle cx="334.16" cy="67.48" r="1.45"/><circle cx="333.76" cy="65.03" r="1.45"/><circle cx="333.35" cy="62.58" r="1.45"/><circle cx="332.93" cy="60.13" r="1.45"/><circle cx="332.5" cy="57.68" r="1.45"/><circle cx="332.05" cy="55.23" r="1.45"/><circle cx="331.59" cy="52.78" r="1.45"/><circle cx="331.12" cy="50.33" r="1.45"/><circle cx="330.65" cy="47.88" r="1.45"/><circle cx="330.2" cy="45.43" r="1.45"/><circle cx="329.78" cy="42.98" r="1.45"/><circle cx="329.38" cy="40.53" r="1.45"/><circle cx="329" cy="38.08" r="1.45"/><circle cx="328.61" cy="35.63" r="1.45"/></g>
<g class="les"><circle cx="337.91" cy="98.84" r="1.45"/><circle cx="341.79" cy="96.39" r="1.45"/><circle cx="340.16" cy="93.94" r="1.45"/><circle cx="338.99" cy="91.49" r="1.45"/><circle cx="338.87" cy="89.04" r="1.45"/><circle cx="339.09" cy="86.59" r="1.45"/><circle cx="339.39" cy="84.14" r="1.45"/><circle cx="339.62" cy="81.69" r="1.45"/><circle cx="339.82" cy="79.24" r="1.45"/><circle cx="340.04" cy="76.79" r="1.45"/><circle cx="340.24" cy="74.34" r="1.45"/><circle cx="340.38" cy="71.89" r="1.45"/><circle cx="340.43" cy="69.44" r="1.45"/><circle cx="340.36" cy="66.99" r="1.45"/><circle cx="340.21" cy="64.54" r="1.45"/><circle cx="340" cy="62.09" r="1.45"/><circle cx="339.78" cy="59.64" r="1.45"/><circle cx="339.58" cy="57.19" r="1.45"/><circle cx="339.37" cy="54.74" r="1.45"/><circle cx="339.15" cy="52.29" r="1.45"/><circle cx="338.93" cy="49.84" r="1.45"/><circle cx="338.72" cy="47.39" r="1.45"/><circle cx="338.53" cy="44.94" r="1.45"/><circle cx="338.38" cy="42.49" r="1.45"/><circle cx="338.25" cy="40.04" r="1.45"/><circle cx="338.12" cy="37.59" r="1.45"/><circle cx="338" cy="35.14" r="1.45"/></g>
<g class="les"><circle cx="348.42" cy="111.47" r="1.45"/><circle cx="355.33" cy="109.02" r="1.45"/><circle cx="360.31" cy="106.57" r="1.45"/><circle cx="360.09" cy="104.12" r="1.45"/><circle cx="357.06" cy="101.67" r="1.45"/><circle cx="353.29" cy="99.22" r="1.45"/><circle cx="349.08" cy="96.77" r="1.45"/><circle cx="346.48" cy="94.32" r="1.45"/><circle cx="345.73" cy="91.87" r="1.45"/><circle cx="345.49" cy="89.42" r="1.45"/><circle cx="345.51" cy="86.97" r="1.45"/><circle cx="345.82" cy="84.52" r="1.45"/><circle cx="346.22" cy="82.07" r="1.45"/><circle cx="346.74" cy="79.62" r="1.45"/><circle cx="347.19" cy="77.17" r="1.45"/><circle cx="347.5" cy="74.72" r="1.45"/><circle cx="347.72" cy="72.27" r="1.45"/><circle cx="347.9" cy="69.82" r="1.45"/><circle cx="348.04" cy="67.37" r="1.45"/><circle cx="348.16" cy="64.92" r="1.45"/><circle cx="348.26" cy="62.47" r="1.45"/><circle cx="348.34" cy="60.02" r="1.45"/><circle cx="348.41" cy="57.57" r="1.45"/><circle cx="348.47" cy="55.12" r="1.45"/><circle cx="348.5" cy="52.67" r="1.45"/><circle cx="348.51" cy="50.22" r="1.45"/><circle cx="348.51" cy="47.77" r="1.45"/><circle cx="348.5" cy="45.32" r="1.45"/><circle cx="348.48" cy="42.87" r="1.45"/><circle cx="348.46" cy="40.42" r="1.45"/><circle cx="348.44" cy="37.97" r="1.45"/><circle cx="348.42" cy="35.52" r="1.45"/></g>
<g class="les"><circle cx="369.44" cy="125.3" r="1.45"/><circle cx="370.31" cy="122.85" r="1.45"/><circle cx="370.95" cy="120.4" r="1.45"/><circle cx="370.95" cy="117.95" r="1.45"/><circle cx="370.55" cy="115.5" r="1.45"/><circle cx="369.97" cy="113.05" r="1.45"/><circle cx="369.26" cy="110.6" r="1.45"/><circle cx="368.39" cy="108.15" r="1.45"/><circle cx="367.28" cy="105.7" r="1.45"/><circle cx="366.06" cy="103.25" r="1.45"/><circle cx="364.89" cy="100.8" r="1.45"/><circle cx="363.68" cy="98.35" r="1.45"/><circle cx="362.57" cy="95.9" r="1.45"/><circle cx="361.85" cy="93.45" r="1.45"/><circle cx="361.5" cy="91" r="1.45"/><circle cx="361.45" cy="88.55" r="1.45"/><circle cx="361.61" cy="86.1" r="1.45"/><circle cx="361.97" cy="83.65" r="1.45"/><circle cx="362.41" cy="81.2" r="1.45"/><circle cx="362.84" cy="78.75" r="1.45"/><circle cx="363.21" cy="76.3" r="1.45"/><circle cx="363.56" cy="73.85" r="1.45"/><circle cx="363.92" cy="71.4" r="1.45"/><circle cx="364.27" cy="68.95" r="1.45"/><circle cx="364.62" cy="66.5" r="1.45"/><circle cx="364.96" cy="64.05" r="1.45"/><circle cx="365.31" cy="61.6" r="1.45"/><circle cx="365.66" cy="59.15" r="1.45"/><circle cx="366" cy="56.7" r="1.45"/><circle cx="366.34" cy="54.25" r="1.45"/><circle cx="366.67" cy="51.8" r="1.45"/><circle cx="367" cy="49.35" r="1.45"/><circle cx="367.32" cy="46.9" r="1.45"/><circle cx="367.63" cy="44.45" r="1.45"/><circle cx="367.94" cy="42" r="1.45"/><circle cx="368.24" cy="39.55" r="1.45"/><circle cx="368.55" cy="37.1" r="1.45"/><circle cx="368.85" cy="34.65" r="1.45"/></g>
<g class="les"><circle cx="390.46" cy="125.3" r="1.45"/><circle cx="388.79" cy="122.85" r="1.45"/><circle cx="387.12" cy="120.4" r="1.45"/><circle cx="385.39" cy="117.95" r="1.45"/><circle cx="383.89" cy="115.5" r="1.45"/><circle cx="382.49" cy="113.05" r="1.45"/><circle cx="381.21" cy="110.6" r="1.45"/><circle cx="380.12" cy="108.15" r="1.45"/><circle cx="379.27" cy="105.7" r="1.45"/><circle cx="378.58" cy="103.25" r="1.45"/><circle cx="378.09" cy="100.8" r="1.45"/><circle cx="377.82" cy="98.35" r="1.45"/><circle cx="377.85" cy="95.9" r="1.45"/><circle cx="378.12" cy="93.45" r="1.45"/><circle cx="378.48" cy="91" r="1.45"/><circle cx="378.88" cy="88.55" r="1.45"/><circle cx="379.36" cy="86.1" r="1.45"/><circle cx="379.93" cy="83.65" r="1.45"/><circle cx="380.68" cy="81.2" r="1.45"/><circle cx="381.8" cy="78.75" r="1.45"/><circle cx="382.61" cy="76.3" r="1.45"/><circle cx="383.16" cy="73.85" r="1.45"/><circle cx="383.61" cy="71.4" r="1.45"/><circle cx="384.01" cy="68.95" r="1.45"/><circle cx="384.39" cy="66.5" r="1.45"/><circle cx="384.75" cy="64.05" r="1.45"/><circle cx="385.1" cy="61.6" r="1.45"/><circle cx="385.45" cy="59.15" r="1.45"/><circle cx="385.81" cy="56.7" r="1.45"/><circle cx="386.18" cy="54.25" r="1.45"/><circle cx="386.57" cy="51.8" r="1.45"/><circle cx="387" cy="49.35" r="1.45"/><circle cx="387.47" cy="46.9" r="1.45"/><circle cx="387.95" cy="44.45" r="1.45"/><circle cx="388.45" cy="42" r="1.45"/><circle cx="388.96" cy="39.55" r="1.45"/><circle cx="389.47" cy="37.1" r="1.45"/><circle cx="389.98" cy="34.65" r="1.45"/></g>
<g class="les"><circle cx="411.48" cy="125.3" r="1.45"/><circle cx="410.32" cy="122.85" r="1.45"/><circle cx="409.16" cy="120.4" r="1.45"/><circle cx="408" cy="117.95" r="1.45"/><circle cx="406.78" cy="115.5" r="1.45"/><circle cx="405.57" cy="113.05" r="1.45"/><circle cx="404.45" cy="110.6" r="1.45"/><circle cx="403.51" cy="108.15" r="1.45"/><circle cx="402.66" cy="105.7" r="1.45"/><circle cx="401.92" cy="103.25" r="1.45"/><circle cx="401.33" cy="100.8" r="1.45"/><circle cx="400.92" cy="98.35" r="1.45"/><circle cx="400.72" cy="95.9" r="1.45"/><circle cx="400.69" cy="93.45" r="1.45"/><circle cx="400.78" cy="91" r="1.45"/><circle cx="400.93" cy="88.55" r="1.45"/><circle cx="401.13" cy="86.1" r="1.45"/><circle cx="401.41" cy="83.65" r="1.45"/><circle cx="401.77" cy="81.2" r="1.45"/><circle cx="402.17" cy="78.75" r="1.45"/><circle cx="402.58" cy="76.3" r="1.45"/><circle cx="403.02" cy="73.85" r="1.45"/><circle cx="403.48" cy="71.4" r="1.45"/><circle cx="403.96" cy="68.95" r="1.45"/><circle cx="404.45" cy="66.5" r="1.45"/><circle cx="404.95" cy="64.05" r="1.45"/><circle cx="405.46" cy="61.6" r="1.45"/><circle cx="405.97" cy="59.15" r="1.45"/><circle cx="406.49" cy="56.7" r="1.45"/><circle cx="407.01" cy="54.25" r="1.45"/><circle cx="407.52" cy="51.8" r="1.45"/><circle cx="408.04" cy="49.35" r="1.45"/><circle cx="408.55" cy="46.9" r="1.45"/><circle cx="409.08" cy="44.45" r="1.45"/><circle cx="409.6" cy="42" r="1.45"/><circle cx="410.13" cy="39.55" r="1.45"/><circle cx="410.66" cy="37.1" r="1.45"/><circle cx="411.19" cy="34.65" r="1.45"/></g>
<g class="les"><circle cx="432.5" cy="125.3" r="1.45"/><circle cx="431.47" cy="122.85" r="1.45"/><circle cx="430.43" cy="120.4" r="1.45"/><circle cx="429.46" cy="117.95" r="1.45"/><circle cx="428.51" cy="115.5" r="1.45"/><circle cx="427.6" cy="113.05" r="1.45"/><circle cx="426.79" cy="110.6" r="1.45"/><circle cx="426.12" cy="108.15" r="1.45"/><circle cx="425.57" cy="105.7" r="1.45"/><circle cx="425.12" cy="103.25" r="1.45"/><circle cx="424.75" cy="100.8" r="1.45"/><circle cx="424.47" cy="98.35" r="1.45"/><circle cx="424.29" cy="95.9" r="1.45"/><circle cx="424.21" cy="93.45" r="1.45"/><circle cx="424.2" cy="91" r="1.45"/><circle cx="424.27" cy="88.55" r="1.45"/><circle cx="424.43" cy="86.1" r="1.45"/><circle cx="424.68" cy="83.65" r="1.45"/><circle cx="425" cy="81.2" r="1.45"/><circle cx="425.36" cy="78.75" r="1.45"/><circle cx="425.72" cy="76.3" r="1.45"/><circle cx="426.08" cy="73.85" r="1.45"/><circle cx="426.46" cy="71.4" r="1.45"/><circle cx="426.85" cy="68.95" r="1.45"/><circle cx="427.25" cy="66.5" r="1.45"/><circle cx="427.66" cy="64.05" r="1.45"/><circle cx="428.06" cy="61.6" r="1.45"/><circle cx="428.47" cy="59.15" r="1.45"/><circle cx="428.88" cy="56.7" r="1.45"/><circle cx="429.29" cy="54.25" r="1.45"/><circle cx="429.69" cy="51.8" r="1.45"/><circle cx="430.08" cy="49.35" r="1.45"/><circle cx="430.45" cy="46.9" r="1.45"/><circle cx="430.83" cy="44.45" r="1.45"/><circle cx="431.2" cy="42" r="1.45"/><circle cx="431.56" cy="39.55" r="1.45"/><circle cx="431.93" cy="37.1" r="1.45"/><circle cx="432.3" cy="34.65" r="1.45"/></g>
<g class="les"><circle cx="453.52" cy="125.3" r="1.45"/><circle cx="453.15" cy="122.85" r="1.45"/><circle cx="452.79" cy="120.4" r="1.45"/><circle cx="452.43" cy="117.95" r="1.45"/><circle cx="452.06" cy="115.5" r="1.45"/><circle cx="451.69" cy="113.05" r="1.45"/><circle cx="451.33" cy="110.6" r="1.45"/><circle cx="451" cy="108.15" r="1.45"/><circle cx="450.74" cy="105.7" r="1.45"/><circle cx="450.53" cy="103.25" r="1.45"/><circle cx="450.37" cy="100.8" r="1.45"/><circle cx="450.24" cy="98.35" r="1.45"/><circle cx="450.17" cy="95.9" r="1.45"/><circle cx="450.16" cy="93.45" r="1.45"/><circle cx="450.22" cy="91" r="1.45"/><circle cx="450.33" cy="88.55" r="1.45"/><circle cx="450.49" cy="86.1" r="1.45"/><circle cx="450.67" cy="83.65" r="1.45"/><circle cx="450.86" cy="81.2" r="1.45"/><circle cx="451.13" cy="78.75" r="1.45"/><circle cx="451.38" cy="76.3" r="1.45"/><circle cx="451.58" cy="73.85" r="1.45"/><circle cx="451.77" cy="71.4" r="1.45"/><circle cx="451.95" cy="68.95" r="1.45"/><circle cx="452.12" cy="66.5" r="1.45"/><circle cx="452.28" cy="64.05" r="1.45"/><circle cx="452.44" cy="61.6" r="1.45"/><circle cx="452.6" cy="59.15" r="1.45"/><circle cx="452.74" cy="56.7" r="1.45"/><circle cx="452.88" cy="54.25" r="1.45"/><circle cx="453.01" cy="51.8" r="1.45"/><circle cx="453.13" cy="49.35" r="1.45"/><circle cx="453.22" cy="46.9" r="1.45"/><circle cx="453.29" cy="44.45" r="1.45"/><circle cx="453.35" cy="42" r="1.45"/><circle cx="453.4" cy="39.55" r="1.45"/><circle cx="453.44" cy="37.1" r="1.45"/><circle cx="453.49" cy="34.65" r="1.45"/></g>
<g class="les"><circle cx="474.54" cy="125.3" r="1.45"/><circle cx="475.67" cy="122.85" r="1.45"/><circle cx="476.72" cy="120.4" r="1.45"/><circle cx="477.53" cy="117.95" r="1.45"/><circle cx="478.24" cy="115.5" r="1.45"/><circle cx="478.87" cy="113.05" r="1.45"/><circle cx="479.43" cy="110.6" r="1.45"/><circle cx="479.9" cy="108.15" r="1.45"/><circle cx="480.28" cy="105.7" r="1.45"/><circle cx="480.53" cy="103.25" r="1.45"/><circle cx="480.7" cy="100.8" r="1.45"/><circle cx="480.79" cy="98.35" r="1.45"/><circle cx="480.83" cy="95.9" r="1.45"/><circle cx="480.85" cy="93.45" r="1.45"/><circle cx="480.85" cy="91" r="1.45"/><circle cx="480.83" cy="88.55" r="1.45"/><circle cx="480.78" cy="86.1" r="1.45"/><circle cx="480.69" cy="83.65" r="1.45"/><circle cx="480.56" cy="81.2" r="1.45"/><circle cx="480.41" cy="78.75" r="1.45"/><circle cx="480.24" cy="76.3" r="1.45"/><circle cx="480.05" cy="73.85" r="1.45"/><circle cx="479.85" cy="71.4" r="1.45"/><circle cx="479.62" cy="68.95" r="1.45"/><circle cx="479.39" cy="66.5" r="1.45"/><circle cx="479.14" cy="64.05" r="1.45"/><circle cx="478.87" cy="61.6" r="1.45"/><circle cx="478.6" cy="59.15" r="1.45"/><circle cx="478.31" cy="56.7" r="1.45"/><circle cx="478.01" cy="54.25" r="1.45"/><circle cx="477.69" cy="51.8" r="1.45"/><circle cx="477.35" cy="49.35" r="1.45"/><circle cx="476.97" cy="46.9" r="1.45"/><circle cx="476.56" cy="44.45" r="1.45"/><circle cx="476.13" cy="42" r="1.45"/><circle cx="475.68" cy="39.55" r="1.45"/><circle cx="475.22" cy="37.1" r="1.45"/><circle cx="474.78" cy="34.65" r="1.45"/></g>
<g class="les"><circle cx="495.56" cy="111.47" r="1.45"/><circle cx="521.73" cy="109.02" r="1.45"/><circle cx="523.79" cy="106.57" r="1.45"/><circle cx="524.33" cy="104.12" r="1.45"/><circle cx="524.06" cy="101.67" r="1.45"/><circle cx="523.1" cy="99.22" r="1.45"/><circle cx="521.85" cy="96.77" r="1.45"/><circle cx="520.29" cy="94.32" r="1.45"/><circle cx="518.61" cy="91.87" r="1.45"/><circle cx="516.77" cy="89.42" r="1.45"/><circle cx="514.89" cy="86.97" r="1.45"/><circle cx="513.06" cy="84.52" r="1.45"/><circle cx="511.53" cy="82.07" r="1.45"/><circle cx="510.76" cy="79.62" r="1.45"/><circle cx="510.21" cy="77.17" r="1.45"/><circle cx="509.48" cy="74.72" r="1.45"/><circle cx="508.67" cy="72.27" r="1.45"/><circle cx="507.83" cy="69.82" r="1.45"/><circle cx="506.98" cy="67.37" r="1.45"/><circle cx="506.12" cy="64.92" r="1.45"/><circle cx="505.26" cy="62.47" r="1.45"/><circle cx="504.39" cy="60.02" r="1.45"/><circle cx="503.53" cy="57.57" r="1.45"/><circle cx="502.68" cy="55.12" r="1.45"/><circle cx="501.83" cy="52.67" r="1.45"/><circle cx="501" cy="50.22" r="1.45"/><circle cx="500.19" cy="47.77" r="1.45"/><circle cx="499.4" cy="45.32" r="1.45"/><circle cx="498.61" cy="42.87" r="1.45"/><circle cx="497.83" cy="40.42" r="1.45"/><circle cx="497.05" cy="37.97" r="1.45"/><circle cx="496.27" cy="35.52" r="1.45"/></g>
<path d="M328.5 94.4C330.2 94.2 332 94.3 333.7 93.8C335.3 93.3 337.6 93 338.3 91.7C339.2 90.1 337.7 86.7 337.5 84.2C337.2 81.8 337.2 79.2 336.9 76.8C336.5 74.5 336.1 72.7 335.6 70C334.9 66.5 333.9 61.6 333.1 57.4C332.2 53.2 331.4 49.1 330.6 45C329.8 41.1 329 37.2 328.2 33.3" class="str"/>
<path d="M337.9 98.8C339.5 98.4 341.7 98.2 342.5 97.5C343 97.1 343.3 96.5 343.2 96C343 95.1 340.6 94 340 92.9C339.5 91.9 339.4 91 339.4 89.8C339.3 88.1 339.7 85.8 340 83.6C340.3 81.2 341.1 78.8 341.3 75.9C341.4 72.3 340.8 67.9 340.4 63.6C340.1 58.7 339.6 53.2 339.2 48.1C338.8 43.1 338.3 38.2 337.9 33.3" class="str"/>
<path d="M348.4 111.5C351.1 111.1 354 111 356.4 110.5C358.4 110.1 360.8 110 361.9 108.9C362.8 108.1 363.3 106.4 363.1 105.2C363 104 362.1 103 361 101.8C359.6 100.3 356.8 98.6 354.7 97.2C352.9 96 350.5 95.3 349.5 93.8C348.6 92.5 348.7 90.9 348.6 89.2C348.5 87.1 349.2 84.4 349.3 82.1C349.4 80 349.3 78.5 349.3 75.9C349.2 71.4 349 64 348.8 57.4C348.7 49.9 348.6 41.3 348.4 33.3" class="str"/>
<path d="M369.4 125.3C370.5 123.8 371.9 122.3 372.6 120.7C373.2 119.2 373.7 117.7 373.6 116C373.6 114 372.8 111.5 372 109.2C371.1 106.9 369.4 104.6 368.4 102.1C367.4 99.7 366.4 96.9 365.9 94.4C365.4 92.3 365.3 90.6 365.2 88.3C365.1 85 365.4 81.4 365.7 76.8C366 69.8 366.9 57.9 367.5 50C368 43.8 368.5 38.9 369 33.3" class="str"/>
<path d="M390.5 125.3C390 123.3 389.9 121.6 389.2 119.4C388.2 116.5 386.1 112.5 384.6 109.2C383.1 106.1 380.8 103.1 379.9 100C379.1 97.1 379.2 94 379.3 91C379.5 88 380.1 84.6 380.8 82.1C381.3 80.1 382 79.3 382.7 76.8C384.1 71.4 385.9 57.9 387.3 50C388.4 43.8 389.3 38.9 390.2 33.3" class="str"/>
<path d="M411.5 125.3C410.5 122.9 409.6 120.7 408.5 118.2C407.4 115.4 405.9 112.4 404.8 109.2C403.6 105.9 402.4 102.3 401.8 98.8C401.2 95.2 401.1 91.6 401.2 87.9C401.3 84 401.9 80.7 402.7 75.9C403.8 68.9 406.5 57.7 408.1 50C409.4 43.8 410.4 38.9 411.5 33.3" class="str"/>
<path d="M432.5 125.3C431.7 122.9 430.8 120.7 430 118.2C429 115.4 427.8 112.4 427 109.2C426.2 105.9 425.5 102.3 425.1 98.8C424.8 95.2 424.6 91.6 424.7 87.9C424.9 84 425.5 80.7 426.2 75.9C427.2 68.9 429.3 57.7 430.4 50C431.3 43.8 431.8 38.9 432.5 33.3" class="str"/>
<path d="M453.5 125.3C453.2 122.9 453 120.9 452.7 118.2C452.3 114.7 451.6 110.2 451.2 106.2C450.9 102.2 450.6 98.1 450.6 94.1C450.6 90.1 451 85.4 451.2 82.1C451.4 79.7 451.4 78.7 451.6 75.9C452 70.2 453 57.7 453.3 50C453.5 43.8 453.4 38.9 453.5 33.3" class="str"/>
<path d="M474.5 125.3C475.2 123.3 475.8 121.8 476.4 119.4C477.4 115.9 478.8 110.8 479.4 106.2C480 101.3 480 96.1 480 91C480 86 479.8 81.6 479.4 75.9C478.9 68.5 477.8 57.9 476.9 50.3C476.1 44 475.3 39 474.5 33.3" class="str"/>
<path d="M495.6 111.5C499.1 111.4 502.8 111.4 506.1 111.3C509 111.1 512.1 111.4 514.5 110.8C516.3 110.3 517.9 109.5 519.1 108.3C520.3 107.1 521.2 105.3 521.4 103.7C521.6 102.1 521.2 100.5 520.6 98.8C519.7 96.4 517.7 93.6 516.2 91C514.7 88.5 512.8 86.2 511.5 83.6C510.3 81.1 509.8 79.3 508.6 75.9C506.5 69.9 502.7 58 500.4 50.3C498.5 44.1 497.2 39 495.6 33.3" class="str"/>
<path d="M328.5 94.4C329.5 93.2 330.7 92.2 331.6 90.7C332.7 88.9 333.8 86.5 334.1 84.2C334.5 81.9 334 79.2 333.7 76.8C333.5 74.5 333 72.7 332.7 70C332.2 66.5 332.1 61.6 331.6 57.4C331.1 53.2 330.5 49.1 329.9 45C329.4 41.1 328.8 37.2 328.2 33.3" class="rke"/>
<path d="M337.9 98.8C339.2 98.6 341.5 98.7 341.7 98.1C341.9 97.4 338.6 96 337.9 94.4C337.1 92.7 337.4 90.7 337.5 88.3C337.6 84.8 338.7 80 339 75.9C339.2 71.8 339 67.9 339 63.6C338.9 58.7 338.7 53.2 338.5 48.1C338.4 43.1 338.1 38.2 337.9 33.3" class="rke"/>
<path d="M348.4 111.5C350.5 110.9 353.7 111.1 354.7 109.9C355.6 108.8 355.4 106.8 355.1 105.2C354.9 103.5 354 101.5 353 100C352.1 98.5 350.5 97.4 349.5 96.3C348.7 95.4 347.8 94.9 347.4 93.8C346.7 92.3 346.7 89.6 346.7 87.6C346.7 85.7 347.2 84 347.4 82.1C347.6 80.1 347.8 78.5 348 75.9C348.3 71.4 348.3 64 348.4 57.4C348.5 49.9 348.4 41.3 348.4 33.3" class="rke"/>
<path d="M369.4 125.3C370 123.2 370.8 121.1 371.1 119.1C371.4 117.2 371.6 115.8 371.5 113.6C371.4 110.3 370.1 105.5 369.4 101.5C368.7 97.7 367.8 94.1 367.3 90.1C366.9 85.9 366.9 82 366.9 76.8C366.9 69.4 367.5 57.9 368 50C368.3 43.8 368.8 38.9 369.2 33.3" class="rke"/>
<path d="M390.5 125.3C390.2 123.2 390 121.1 389.8 119.1C389.6 117.2 389.5 115.9 389.2 113.6C388.7 109.8 387.6 103.7 386.9 98.8C386.2 93.7 385.5 87.8 385.2 83.6C385 80.6 384.9 79.2 385 75.9C385.3 69.8 386.9 57.7 387.9 50C388.8 43.8 389.6 38.9 390.5 33.3" class="rke"/>
<path d="M411.5 125.3C410.9 122.9 410.4 120.9 409.8 118.2C409 114.7 407.9 110.4 407.1 106.2C406.2 101.4 405.3 96.1 404.8 91C404.2 86 403.4 81.6 403.7 75.9C404.1 68.4 407.1 57.7 408.5 50C409.7 43.8 410.5 38.9 411.5 33.3" class="rke"/>
<path d="M432.5 125.3C431.8 122.9 431.2 120.7 430.4 118.2C429.6 115.4 428.4 112.4 427.7 109.2C426.9 105.9 426.2 102.3 425.8 98.8C425.4 95.2 425.2 91.6 425.4 87.9C425.5 84 426 80.7 426.6 75.9C427.5 68.9 429.8 57.7 430.8 50C431.6 43.8 431.9 38.9 432.5 33.3" class="rke"/>
<path d="M453.5 125.3C453.4 122.9 453.3 120.9 453.1 118.2C452.8 114.7 452.2 110.2 451.8 106.2C451.5 102.2 451.2 98.1 451.2 94.1C451.2 90.1 451.5 85.4 451.6 82.1C451.8 79.7 451.9 78.7 452 75.9C452.4 70.2 453.3 57.7 453.5 50C453.7 43.8 453.5 38.9 453.5 33.3" class="rke"/>
<path d="M474.5 125.3C474.8 122.2 475 119.2 475.2 116C475.3 112.8 475.3 110.1 475.4 106.2C475.6 100.2 476 90.2 476.2 83.6C476.4 78.4 476.5 74.8 476.4 69.7C476.4 63.8 476.1 56.5 475.8 50.3C475.5 44.4 475 39 474.5 33.3" class="rke"/>
<path d="M495.6 111.5C499.1 111.3 503.4 111.4 506.1 111.1C507.7 110.9 509.2 111.2 510.1 110.5C511 109.7 511.5 107.7 511.5 106.2C511.6 104.3 510.6 102 510.1 100C509.6 98 509.1 96.3 508.6 94.1C507.9 91.4 507.1 87.9 506.5 84.9C505.9 81.9 505.6 79.6 504.8 75.9C503.5 69.6 500.6 58 498.9 50.3C497.6 44.1 496.7 39 495.6 33.3" class="rke"/>
<rect x="356.6" y="16.5" width="151.9" height="10.5" class="lg"/>
<circle cx="372.1" cy="21.75" r="1.4" class="lgc"/>
<text x="381.6" y="24.25" class="lt" textLength="13.4" lengthAdjust="spacingAndGlyphs">LES</text>
<path d="M404 21.75H425.8" class="lgb"/>
<text x="429.7" y="24.25" class="lt" textLength="13.6" lengthAdjust="spacingAndGlyphs">RKE</text>
<path d="M446.8 21.75H471" class="lgr"/>
<text x="472.8" y="24.25" class="lt" textLength="27.2" lengthAdjust="spacingAndGlyphs">STRUCT</text>
<text x="500.1" y="24.25" class="lt">-</text>
<text x="502" y="24.35" class="lt eps">ε</text>
<rect x="30.8" y="177.6" width="209.2" height="113.4" class="fr"/>
<text x="30.8" y="298.3" class="tl" text-anchor="middle">0</text>
<text x="54.04" y="298.3" class="tl" text-anchor="middle">1</text>
<text x="77.29" y="298.3" class="tl" text-anchor="middle">2</text>
<text x="100.53" y="298.3" class="tl" text-anchor="middle">3</text>
<text x="123.78" y="298.3" class="tl" text-anchor="middle">4</text>
<text x="147.02" y="298.3" class="tl" text-anchor="middle">5</text>
<text x="170.27" y="298.3" class="tl" text-anchor="middle">6</text>
<text x="193.51" y="298.3" class="tl" text-anchor="middle">7</text>
<text x="216.76" y="298.3" class="tl" text-anchor="middle">8</text>
<text x="240" y="298.3" class="tl" text-anchor="middle">9</text>
<text x="26.1" y="291.8" class="tl" text-anchor="end">0</text>
<text x="25.2" y="276.7" class="tl" text-anchor="end">0.5</text>
<text x="26.1" y="261.6" class="tl" text-anchor="end">1</text>
<text x="25.2" y="246.5" class="tl" text-anchor="end">1.5</text>
<text x="26.1" y="231.4" class="tl" text-anchor="end">2</text>
<text x="25.2" y="216.3" class="tl" text-anchor="end">2.5</text>
<text x="26.1" y="201.2" class="tl" text-anchor="end">3</text>
<text x="25.2" y="186.1" class="tl" text-anchor="end">3.5</text>
<path d="M30.8 291v-2M30.8 177.6v2M54.04 291v-2M54.04 177.6v2M77.29 291v-2M77.29 177.6v2M100.53 291v-2M100.53 177.6v2M123.78 291v-2M123.78 177.6v2M147.02 291v-2M147.02 177.6v2M170.27 291v-2M170.27 177.6v2M193.51 291v-2M193.51 177.6v2M216.76 291v-2M216.76 177.6v2M240 291v-2M240 177.6v2M30.8 291h2M240 291h-2M30.8 275.9h2M240 275.9h-2M30.8 260.8h2M240 260.8h-2M30.8 245.7h2M240 245.7h-2M30.8 230.6h2M240 230.6h-2M30.8 215.5h2M240 215.5h-2M30.8 200.4h2M240 200.4h-2M30.8 185.3h2M240 185.3h-2" class="tk"/>
<path d="M30.8 260.8 L32.89 260.8 L34.98 260.91 L37.08 261.37 L39.17 262.4 L41.26 264.02 L43.35 266.06 L45.44 268.33 L47.54 270.65 L49.63 272.91 L51.72 275.1 L53.81 277.23 L55.9 279.34 L58 281.41 L60.09 283.4 L62.18 285.25 L64.27 286.88 L66.36 288.25 L68.46 289.35 L70.55 290.17 L72.64 290.71 L74.73 290.97 L76.82 291 L78.92 291 L81.01 291 L83.1 291 L85.19 291 L87.28 291 L89.38 291 L91.47 291 L93.56 291 L95.65 291 L97.74 291 L99.84 291 L101.93 291 L104.02 291 L106.11 291 L108.2 291 L110.3 291 L112.39 291 L114.48 291 L116.57 291 L118.66 291 L120.76 291 L122.85 291 L124.94 291 L127.03 291 L129.12 291 L131.22 291 L133.31 291 L135.4 291 L137.49 291 L139.58 291 L141.68 291 L143.77 291 L145.86 291 L147.95 291 L150.04 291 L152.14 291 L154.23 291 L156.32 291 L158.41 291 L160.5 291 L162.6 291 L164.69 291 L166.78 291 L168.87 291 L170.96 291 L173.06 291 L175.15 291 L177.24 291 L179.33 291 L181.42 291 L183.52 291 L185.61 291 L187.7 291 L189.79 291 L191.88 291 L193.98 291 L196.07 290.97 L198.16 290.71 L200.25 290.17 L202.34 289.35 L204.44 288.25 L206.53 286.88 L208.62 285.25 L210.71 283.4 L212.8 281.41 L214.9 279.34 L216.99 277.23 L219.08 275.1 L221.17 272.91 L223.26 270.65 L225.36 268.33 L227.45 266.06 L229.54 264.02 L231.63 262.4 L233.72 261.37 L235.82 260.91 L237.91 260.8 L240 260.8M30.8 200.4H240" class="hill"/>
<g class="les"><circle cx="31.96" cy="260.8" r="1.45"/><circle cx="59.76" cy="258.35" r="1.45"/><circle cx="46.97" cy="255.9" r="1.45"/><circle cx="45.27" cy="253.45" r="1.45"/><circle cx="45.17" cy="251" r="1.45"/><circle cx="45.45" cy="248.55" r="1.45"/><circle cx="45.69" cy="246.1" r="1.45"/><circle cx="45.59" cy="243.65" r="1.45"/><circle cx="45.19" cy="241.2" r="1.45"/><circle cx="44.67" cy="238.75" r="1.45"/><circle cx="44.12" cy="236.3" r="1.45"/><circle cx="43.55" cy="233.85" r="1.45"/><circle cx="43" cy="231.4" r="1.45"/><circle cx="42.51" cy="228.95" r="1.45"/><circle cx="42.05" cy="226.5" r="1.45"/><circle cx="41.6" cy="224.05" r="1.45"/><circle cx="41.16" cy="221.6" r="1.45"/><circle cx="40.72" cy="219.15" r="1.45"/><circle cx="40.3" cy="216.7" r="1.45"/><circle cx="39.88" cy="214.25" r="1.45"/><circle cx="39.42" cy="211.8" r="1.45"/><circle cx="38.99" cy="209.35" r="1.45"/><circle cx="38.72" cy="206.9" r="1.45"/><circle cx="39.1" cy="204.45" r="1.45"/><circle cx="38.32" cy="202" r="1.45"/></g>
<g class="les"><circle cx="42.42" cy="265.12" r="1.45"/><circle cx="46.92" cy="262.67" r="1.45"/><circle cx="58.56" cy="260.22" r="1.45"/><circle cx="68.19" cy="257.77" r="1.45"/><circle cx="56.92" cy="255.32" r="1.45"/><circle cx="55.9" cy="252.87" r="1.45"/><circle cx="55.89" cy="250.42" r="1.45"/><circle cx="55.78" cy="247.97" r="1.45"/><circle cx="55.69" cy="245.52" r="1.45"/><circle cx="55.49" cy="243.07" r="1.45"/><circle cx="55.09" cy="240.62" r="1.45"/><circle cx="54.56" cy="238.17" r="1.45"/><circle cx="53.98" cy="235.72" r="1.45"/><circle cx="53.41" cy="233.27" r="1.45"/><circle cx="52.92" cy="230.82" r="1.45"/><circle cx="52.52" cy="228.37" r="1.45"/><circle cx="52.16" cy="225.92" r="1.45"/><circle cx="51.84" cy="223.47" r="1.45"/><circle cx="51.52" cy="221.02" r="1.45"/><circle cx="51.21" cy="218.57" r="1.45"/><circle cx="50.88" cy="216.12" r="1.45"/><circle cx="50.49" cy="213.67" r="1.45"/><circle cx="50.01" cy="211.22" r="1.45"/><circle cx="49.58" cy="208.77" r="1.45"/><circle cx="49.4" cy="206.32" r="1.45"/><circle cx="50.09" cy="203.87" r="1.45"/><circle cx="48.45" cy="201.42" r="1.45"/></g>
<g class="les"><circle cx="54.04" cy="277.47" r="1.45"/><circle cx="55.57" cy="275.02" r="1.45"/><circle cx="60.02" cy="272.57" r="1.45"/><circle cx="66.52" cy="270.12" r="1.45"/><circle cx="74.79" cy="267.67" r="1.45"/><circle cx="81.07" cy="265.22" r="1.45"/><circle cx="84.29" cy="262.77" r="1.45"/><circle cx="82.99" cy="260.32" r="1.45"/><circle cx="79.75" cy="257.87" r="1.45"/><circle cx="74.64" cy="255.42" r="1.45"/><circle cx="71.04" cy="252.97" r="1.45"/><circle cx="68.64" cy="250.52" r="1.45"/><circle cx="67.64" cy="248.07" r="1.45"/><circle cx="67.25" cy="245.62" r="1.45"/><circle cx="66.92" cy="243.17" r="1.45"/><circle cx="66.46" cy="240.72" r="1.45"/><circle cx="66.03" cy="238.27" r="1.45"/><circle cx="65.62" cy="235.82" r="1.45"/><circle cx="65.21" cy="233.37" r="1.45"/><circle cx="64.79" cy="230.92" r="1.45"/><circle cx="64.37" cy="228.47" r="1.45"/><circle cx="63.94" cy="226.02" r="1.45"/><circle cx="63.51" cy="223.57" r="1.45"/><circle cx="63.09" cy="221.12" r="1.45"/><circle cx="62.68" cy="218.67" r="1.45"/><circle cx="62.29" cy="216.22" r="1.45"/><circle cx="61.91" cy="213.77" r="1.45"/><circle cx="61.5" cy="211.32" r="1.45"/><circle cx="61.15" cy="208.87" r="1.45"/><circle cx="61.02" cy="206.42" r="1.45"/><circle cx="61.68" cy="203.97" r="1.45"/><circle cx="60.28" cy="201.52" r="1.45"/></g>
<g class="les"><circle cx="77.29" cy="291" r="1.45"/><circle cx="86.63" cy="288.55" r="1.45"/><circle cx="89.33" cy="286.1" r="1.45"/><circle cx="91.81" cy="283.65" r="1.45"/><circle cx="94.9" cy="281.2" r="1.45"/><circle cx="98.6" cy="278.75" r="1.45"/><circle cx="102.3" cy="276.3" r="1.45"/><circle cx="105.64" cy="273.85" r="1.45"/><circle cx="108.75" cy="271.4" r="1.45"/><circle cx="111.64" cy="268.95" r="1.45"/><circle cx="114.46" cy="266.5" r="1.45"/><circle cx="116.12" cy="264.05" r="1.45"/><circle cx="115.38" cy="261.6" r="1.45"/><circle cx="114.13" cy="259.15" r="1.45"/><circle cx="112.31" cy="256.7" r="1.45"/><circle cx="105.96" cy="254.25" r="1.45"/><circle cx="100.34" cy="251.8" r="1.45"/><circle cx="96.15" cy="249.35" r="1.45"/><circle cx="93.49" cy="246.9" r="1.45"/><circle cx="91.54" cy="244.45" r="1.45"/><circle cx="90.28" cy="242" r="1.45"/><circle cx="89.6" cy="239.55" r="1.45"/><circle cx="88.9" cy="237.1" r="1.45"/><circle cx="88.23" cy="234.65" r="1.45"/><circle cx="87.61" cy="232.2" r="1.45"/><circle cx="87.04" cy="229.75" r="1.45"/><circle cx="86.53" cy="227.3" r="1.45"/><circle cx="86.12" cy="224.85" r="1.45"/><circle cx="85.76" cy="222.4" r="1.45"/><circle cx="85.45" cy="219.95" r="1.45"/><circle cx="85.17" cy="217.5" r="1.45"/><circle cx="84.91" cy="215.05" r="1.45"/><circle cx="84.58" cy="212.6" r="1.45"/><circle cx="84.26" cy="210.15" r="1.45"/><circle cx="84.13" cy="207.7" r="1.45"/><circle cx="84.8" cy="205.25" r="1.45"/><circle cx="86.12" cy="202.8" r="1.45"/></g>
<g class="les"><circle cx="100.53" cy="291" r="1.45"/><circle cx="112.22" cy="288.55" r="1.45"/><circle cx="116.46" cy="286.1" r="1.45"/><circle cx="120.19" cy="283.65" r="1.45"/><circle cx="123.61" cy="281.2" r="1.45"/><circle cx="126.64" cy="278.75" r="1.45"/><circle cx="129.39" cy="276.3" r="1.45"/><circle cx="132.04" cy="273.85" r="1.45"/><circle cx="134.45" cy="271.4" r="1.45"/><circle cx="136.22" cy="268.95" r="1.45"/><circle cx="137.57" cy="266.5" r="1.45"/><circle cx="138.19" cy="264.05" r="1.45"/><circle cx="137.74" cy="261.6" r="1.45"/><circle cx="136.43" cy="259.15" r="1.45"/><circle cx="134.4" cy="256.7" r="1.45"/><circle cx="131.42" cy="254.25" r="1.45"/><circle cx="127.84" cy="251.8" r="1.45"/><circle cx="124.05" cy="249.35" r="1.45"/><circle cx="119.23" cy="246.9" r="1.45"/><circle cx="116.27" cy="244.45" r="1.45"/><circle cx="114.77" cy="242" r="1.45"/><circle cx="113.71" cy="239.55" r="1.45"/><circle cx="112.82" cy="237.1" r="1.45"/><circle cx="112" cy="234.65" r="1.45"/><circle cx="111.26" cy="232.2" r="1.45"/><circle cx="110.62" cy="229.75" r="1.45"/><circle cx="110.05" cy="227.3" r="1.45"/><circle cx="109.54" cy="224.85" r="1.45"/><circle cx="109.08" cy="222.4" r="1.45"/><circle cx="108.66" cy="219.95" r="1.45"/><circle cx="108.28" cy="217.5" r="1.45"/><circle cx="107.92" cy="215.05" r="1.45"/><circle cx="107.59" cy="212.6" r="1.45"/><circle cx="107.37" cy="210.15" r="1.45"/><circle cx="107.35" cy="207.7" r="1.45"/><circle cx="108.02" cy="205.25" r="1.45"/><circle cx="109.36" cy="202.8" r="1.45"/></g>
<g class="les"><circle cx="123.78" cy="291" r="1.45"/><circle cx="134.6" cy="288.55" r="1.45"/><circle cx="138.25" cy="286.1" r="1.45"/><circle cx="141.29" cy="283.65" r="1.45"/><circle cx="144.12" cy="281.2" r="1.45"/><circle cx="147.28" cy="278.75" r="1.45"/><circle cx="151.84" cy="276.3" r="1.45"/><circle cx="154.41" cy="273.85" r="1.45"/><circle cx="156.34" cy="271.4" r="1.45"/><circle cx="158.2" cy="268.95" r="1.45"/><circle cx="160.13" cy="266.5" r="1.45"/><circle cx="161.21" cy="264.05" r="1.45"/><circle cx="161.33" cy="261.6" r="1.45"/><circle cx="160.9" cy="259.15" r="1.45"/><circle cx="159.88" cy="256.7" r="1.45"/><circle cx="157.49" cy="254.25" r="1.45"/><circle cx="153.71" cy="251.8" r="1.45"/><circle cx="150.41" cy="249.35" r="1.45"/><circle cx="147.11" cy="246.9" r="1.45"/><circle cx="144.33" cy="244.45" r="1.45"/><circle cx="142.3" cy="242" r="1.45"/><circle cx="140.72" cy="239.55" r="1.45"/><circle cx="139.39" cy="237.1" r="1.45"/><circle cx="138.2" cy="234.65" r="1.45"/><circle cx="137.1" cy="232.2" r="1.45"/><circle cx="136.12" cy="229.75" r="1.45"/><circle cx="135.24" cy="227.3" r="1.45"/><circle cx="134.46" cy="224.85" r="1.45"/><circle cx="133.77" cy="222.4" r="1.45"/><circle cx="133.14" cy="219.95" r="1.45"/><circle cx="132.59" cy="217.5" r="1.45"/><circle cx="132.11" cy="215.05" r="1.45"/><circle cx="131.72" cy="212.6" r="1.45"/><circle cx="131.48" cy="210.15" r="1.45"/><circle cx="131.63" cy="207.7" r="1.45"/><circle cx="132.22" cy="205.25" r="1.45"/><circle cx="131.75" cy="202.8" r="1.45"/></g>
<g class="les"><circle cx="147.02" cy="291" r="1.45"/><circle cx="159.53" cy="288.55" r="1.45"/><circle cx="164.3" cy="286.1" r="1.45"/><circle cx="166.13" cy="283.65" r="1.45"/><circle cx="167.29" cy="281.2" r="1.45"/><circle cx="168.77" cy="278.75" r="1.45"/><circle cx="171.04" cy="276.3" r="1.45"/><circle cx="173.59" cy="273.85" r="1.45"/><circle cx="175.82" cy="271.4" r="1.45"/><circle cx="177.73" cy="268.95" r="1.45"/><circle cx="179.37" cy="266.5" r="1.45"/><circle cx="180.27" cy="264.05" r="1.45"/><circle cx="180.37" cy="261.6" r="1.45"/><circle cx="179.9" cy="259.15" r="1.45"/><circle cx="178.93" cy="256.7" r="1.45"/><circle cx="177.09" cy="254.25" r="1.45"/><circle cx="174.38" cy="251.8" r="1.45"/><circle cx="171.69" cy="249.35" r="1.45"/><circle cx="169.31" cy="246.9" r="1.45"/><circle cx="167.04" cy="244.45" r="1.45"/><circle cx="165.12" cy="242" r="1.45"/><circle cx="163.46" cy="239.55" r="1.45"/><circle cx="161.97" cy="237.1" r="1.45"/><circle cx="160.63" cy="234.65" r="1.45"/><circle cx="159.42" cy="232.2" r="1.45"/><circle cx="158.32" cy="229.75" r="1.45"/><circle cx="157.33" cy="227.3" r="1.45"/><circle cx="156.45" cy="224.85" r="1.45"/><circle cx="155.7" cy="222.4" r="1.45"/><circle cx="155.08" cy="219.95" r="1.45"/><circle cx="154.56" cy="217.5" r="1.45"/><circle cx="154.17" cy="215.05" r="1.45"/><circle cx="153.96" cy="212.6" r="1.45"/><circle cx="154.06" cy="210.15" r="1.45"/><circle cx="154.89" cy="207.7" r="1.45"/><circle cx="155.95" cy="205.25" r="1.45"/><circle cx="155.69" cy="202.8" r="1.45"/></g>
<g class="les"><circle cx="170.27" cy="291" r="1.45"/><circle cx="186.28" cy="288.55" r="1.45"/><circle cx="187.44" cy="286.1" r="1.45"/><circle cx="188.5" cy="283.65" r="1.45"/><circle cx="190.37" cy="281.2" r="1.45"/><circle cx="192.54" cy="278.75" r="1.45"/><circle cx="194.58" cy="276.3" r="1.45"/><circle cx="196.13" cy="273.85" r="1.45"/><circle cx="197.31" cy="271.4" r="1.45"/><circle cx="198.21" cy="268.95" r="1.45"/><circle cx="198.76" cy="266.5" r="1.45"/><circle cx="198.92" cy="264.05" r="1.45"/><circle cx="198.75" cy="261.6" r="1.45"/><circle cx="198.32" cy="259.15" r="1.45"/><circle cx="197.67" cy="256.7" r="1.45"/><circle cx="196.8" cy="254.25" r="1.45"/><circle cx="195.58" cy="251.8" r="1.45"/><circle cx="194.1" cy="249.35" r="1.45"/><circle cx="192.53" cy="246.9" r="1.45"/><circle cx="191.03" cy="244.45" r="1.45"/><circle cx="189.44" cy="242" r="1.45"/><circle cx="187.77" cy="239.55" r="1.45"/><circle cx="186.1" cy="237.1" r="1.45"/><circle cx="184.5" cy="234.65" r="1.45"/><circle cx="183.03" cy="232.2" r="1.45"/><circle cx="181.78" cy="229.75" r="1.45"/><circle cx="180.73" cy="227.3" r="1.45"/><circle cx="179.84" cy="224.85" r="1.45"/><circle cx="179.1" cy="222.4" r="1.45"/><circle cx="178.51" cy="219.95" r="1.45"/><circle cx="178.06" cy="217.5" r="1.45"/><circle cx="177.84" cy="215.05" r="1.45"/><circle cx="177.78" cy="212.6" r="1.45"/><circle cx="177.78" cy="210.15" r="1.45"/><circle cx="177.76" cy="207.7" r="1.45"/><circle cx="177.54" cy="205.25" r="1.45"/><circle cx="176.89" cy="202.8" r="1.45"/></g>
<g class="les"><circle cx="193.51" cy="291" r="1.45"/><circle cx="205.07" cy="288.55" r="1.45"/><circle cx="207.39" cy="286.1" r="1.45"/><circle cx="208.33" cy="283.65" r="1.45"/><circle cx="209.48" cy="281.2" r="1.45"/><circle cx="210.88" cy="278.75" r="1.45"/><circle cx="212.32" cy="276.3" r="1.45"/><circle cx="213.75" cy="273.85" r="1.45"/><circle cx="215.11" cy="271.4" r="1.45"/><circle cx="216.44" cy="268.95" r="1.45"/><circle cx="217.7" cy="266.5" r="1.45"/><circle cx="218.64" cy="264.05" r="1.45"/><circle cx="219.29" cy="261.6" r="1.45"/><circle cx="219.65" cy="259.15" r="1.45"/><circle cx="219.51" cy="256.7" r="1.45"/><circle cx="218.72" cy="254.25" r="1.45"/><circle cx="217.52" cy="251.8" r="1.45"/><circle cx="216.08" cy="249.35" r="1.45"/><circle cx="214.49" cy="246.9" r="1.45"/><circle cx="212.58" cy="244.45" r="1.45"/><circle cx="211.06" cy="242" r="1.45"/><circle cx="209.65" cy="239.55" r="1.45"/><circle cx="208.31" cy="237.1" r="1.45"/><circle cx="207.05" cy="234.65" r="1.45"/><circle cx="205.86" cy="232.2" r="1.45"/><circle cx="204.72" cy="229.75" r="1.45"/><circle cx="203.65" cy="227.3" r="1.45"/><circle cx="202.69" cy="224.85" r="1.45"/><circle cx="201.87" cy="222.4" r="1.45"/><circle cx="201.17" cy="219.95" r="1.45"/><circle cx="200.57" cy="217.5" r="1.45"/><circle cx="200.08" cy="215.05" r="1.45"/><circle cx="199.72" cy="212.6" r="1.45"/><circle cx="199.55" cy="210.15" r="1.45"/><circle cx="199.84" cy="207.7" r="1.45"/><circle cx="200.33" cy="205.25" r="1.45"/><circle cx="200.37" cy="202.8" r="1.45"/></g>
<g class="les"><circle cx="216.76" cy="277.47" r="1.45"/><circle cx="226.44" cy="275.02" r="1.45"/><circle cx="228.17" cy="272.57" r="1.45"/><circle cx="229.78" cy="270.12" r="1.45"/><circle cx="231.14" cy="267.67" r="1.45"/><circle cx="232.32" cy="265.22" r="1.45"/><circle cx="233.32" cy="262.77" r="1.45"/><circle cx="234.11" cy="260.32" r="1.45"/><circle cx="234.7" cy="257.87" r="1.45"/><circle cx="235.11" cy="255.42" r="1.45"/><circle cx="235.36" cy="252.97" r="1.45"/><circle cx="235.43" cy="250.52" r="1.45"/><circle cx="235.29" cy="248.07" r="1.45"/><circle cx="234.96" cy="245.62" r="1.45"/><circle cx="234.43" cy="243.17" r="1.45"/><circle cx="233.66" cy="240.72" r="1.45"/><circle cx="232.58" cy="238.27" r="1.45"/><circle cx="231.19" cy="235.82" r="1.45"/><circle cx="229.67" cy="233.37" r="1.45"/><circle cx="228.19" cy="230.92" r="1.45"/><circle cx="226.91" cy="228.47" r="1.45"/><circle cx="225.71" cy="226.02" r="1.45"/><circle cx="224.56" cy="223.57" r="1.45"/><circle cx="223.57" cy="221.12" r="1.45"/><circle cx="222.83" cy="218.67" r="1.45"/><circle cx="222.46" cy="216.22" r="1.45"/><circle cx="222.38" cy="213.77" r="1.45"/><circle cx="222.4" cy="211.32" r="1.45"/><circle cx="222.3" cy="208.87" r="1.45"/><circle cx="222.25" cy="206.42" r="1.45"/><circle cx="222.1" cy="203.97" r="1.45"/><circle cx="220.7" cy="201.52" r="1.45"/></g>
<path d="M32 260.8C39.3 260.7 46.6 260.7 54 260.6C61.7 260.6 71.3 260.5 77.3 260.3C81.1 260.3 83.2 260.3 86.6 260.1C90.5 260 99.4 259.7 99.4 259.4C99.4 259.2 91.2 258.9 86.6 258.7C81 258.5 73.7 258.6 68 258.4C63 258.2 57.6 258 54 257.8C51.8 257.6 50.3 257.7 48.5 257.3C46.5 257 43.6 256.6 42.7 255.7C42 255 42 254.2 42 253.2C41.9 252 42.5 250.3 42.9 248.7C43.4 246.8 44.5 244.5 44.7 242.7C45 241.2 45 240.2 44.7 238.5C44.3 235.5 42.2 230.6 41.3 226.7C40.3 222.8 39.8 218.5 39.2 214.9C38.6 211.8 37.2 208.5 37.8 206.4C38.2 205 39.5 203.9 40.6 203.1C41.5 202.4 43.6 202.1 43.6 201.8C43.5 201.3 39.7 200.9 37.8 200.7C35.8 200.5 33.9 200.5 32 200.4" class="str"/>
<path d="M42.4 265.1C44.1 264.4 45.2 263.4 47.5 262.9C51.7 262 59.4 262.2 65.7 262C72.4 261.8 80.5 262.1 86.6 261.6C91.5 261.1 99.6 260.2 99.6 259.5C99.6 258.9 91.4 258.2 86.6 257.8C80.5 257.3 71.6 257.5 66.1 257C62.4 256.7 58.8 256.7 56.8 255.7C55.7 255.1 54.9 254.3 54.5 253.2C54 251.8 55.2 249.6 55.2 247.5C55.3 244.8 54.9 241.7 54.5 238.5C54 234.8 52.9 230.6 52.2 226.7C51.4 222.8 50.8 218.5 50.1 214.9C49.5 211.8 47.9 208.5 48.5 206.4C48.8 205 50.2 203.9 51.3 203.1C52.2 202.4 54.6 202.1 54.5 201.8C54.5 201.3 50.3 200.9 48.2 200.7C46.3 200.5 44.4 200.5 42.4 200.4" class="str"/>
<path d="M54 277.5C54.3 276.9 54.5 276.5 54.7 275.9C55 275.1 55 273.8 55.4 272.9C55.9 272 56.6 271.1 57.5 270.5C58.5 269.8 59.6 269.7 61 269.3C63.4 268.5 66.7 267.1 70.3 266.2C75 265.1 81.5 264.5 86.6 263.4C91.3 262.3 99.9 260.8 99.8 259.6C99.8 258.4 91 257.1 86.6 256.3C82.3 255.4 76.9 255.4 73.6 254.5C71.4 253.8 69.5 253.3 68.5 252C67.5 250.9 67.5 249.3 67.1 247.5C66.5 245 66 241.7 65.4 238.5C64.8 234.8 64.1 230.6 63.3 226.7C62.6 222.7 61.6 218.5 61 214.9C60.5 211.9 59.1 208.5 59.9 206.4C60.4 204.9 62.1 203.9 63.3 203.1C64.5 202.4 67.1 202.1 67.1 201.8C67 201.3 62.1 200.9 59.9 200.7C57.8 200.5 56 200.5 54 200.4" class="str"/>
<path d="M77.3 291C78.8 290.9 80.5 291 81.9 290.8C83.1 290.7 84.1 291 85.2 290.4C87.1 289.3 89.4 285.5 91.5 283.1C93.5 280.8 95.3 278.3 97.7 276.2C100.3 273.9 103.7 271.9 106.6 269.9C109.3 268 113 266.3 114.5 264.4C115.4 263.2 115.9 262 115.9 260.8C115.8 259.4 115 257.8 113.8 256.6C112.2 254.9 108.9 253.7 106.3 252.3C103.5 250.8 99.7 249.7 97.5 247.8C95.8 246.3 95 244.5 93.8 242.7C92.5 240.8 91.1 238.5 90.1 236.6C89.2 235 88.6 234.1 88 232.1C86.9 228.8 85.7 222.7 85 218.2C84.3 214.1 82.3 209 83.6 206.4C84.5 204.6 86.9 203.9 88.9 203.1C91 202.3 95.9 202.1 95.9 201.8C95.9 201.3 89.7 200.9 86.6 200.7C83.5 200.5 80.4 200.5 77.3 200.4" class="str"/>
<path d="M100.5 291C102.9 290.9 105.2 291 107.5 290.8C109.7 290.7 111.7 291.2 113.8 290.4C116.3 289.4 118.6 286.6 121 284.7C123.4 282.7 126 281.1 128.4 278.9C131.1 276.6 134.4 273.7 136.6 271.1C138.4 268.9 141 266.3 141 264.4C141 263 139.6 262 138.7 260.8C137.5 259.4 135.9 257.9 134.2 256.6C132.5 255.1 130.6 253.9 128.4 252.3C125.8 250.5 121.8 248.3 119.6 246.3C118 244.9 117.1 243.8 115.9 242.1C114.3 239.7 112.7 236.5 111.5 233C109.9 228.8 108.6 222.9 107.7 218.2C107 214.1 105.1 209 106.3 206.4C107.3 204.5 110 203.9 112.2 203.1C114.6 202.3 120.3 202.1 120.3 201.8C120.3 201.3 113.2 200.9 109.8 200.7C106.6 200.5 103.6 200.5 100.5 200.4" class="str"/>
<path d="M123.8 291C126.1 290.9 128.4 290.9 130.8 290.8C133.1 290.8 135.7 291.5 137.7 290.5C140 289.6 141.7 286.8 143.5 284.7C145.5 282.4 147.4 280 149.3 277.4C151.4 274.6 153.8 271.3 155.4 268.4C156.7 265.9 158.6 263.2 158.4 261.1C158.2 259.4 156.8 258.1 155.4 256.6C153.6 254.6 150.3 253 148 250.8C145.5 248.6 143.1 246.1 141.2 243.3C139.3 240.4 137.9 237.1 136.6 233.6C135.1 229.9 134.1 225.3 133.1 221.5C132.2 218.3 131.3 215.2 130.8 212.5C130.3 210.3 129.1 208 129.8 206.4C130.6 204.8 133.3 203.9 135.4 203.1C137.8 202.2 143.8 202.1 143.8 201.8C143.8 201.3 136.5 200.9 133.1 200.7C129.9 200.5 126.9 200.5 123.8 200.4" class="str"/>
<path d="M147 291C149.3 290.9 151.7 291.1 154 290.8C156.4 290.4 159.5 290.1 161.2 288.6C162.9 287.1 162.8 284.1 164.2 281.9C166 279.4 169.3 276.8 171.4 274.4C173.2 272.3 175.1 270.3 176.1 268.4C176.9 266.9 177.4 265.7 177.5 264.1C177.6 262 177 258.9 175.8 256.6C174.6 254 172 251.6 170 249.3C168.2 247.2 166.1 245.5 164.5 243.3C162.7 241 161.2 238.5 159.8 235.7C158.2 232.6 156.5 229.2 155.4 225.5C154.1 221.2 153.4 214.8 153.1 211.3C152.9 209.2 152.3 207.7 153.1 206.4C153.9 204.9 156.6 203.9 158.6 203.1C160.9 202.3 166.3 202.1 166.3 201.8C166.3 201.3 159.6 200.9 156.3 200.7C153.2 200.5 150.1 200.5 147 200.4" class="str"/>
<path d="M170.3 291C172.6 290.9 174.9 291 177.2 290.8C179.5 290.7 182.6 291.4 184 290.4C185.1 289.6 184.8 287.7 185.6 286.2C186.7 284 188.4 281.3 190 278.9C191.8 276.4 194.5 274 195.8 271.4C197.1 269 198.2 266.8 198.2 264.1C198.2 260.7 196 255.9 194.4 252.3C193 249.1 191.2 246.4 189.3 243.6C187.5 240.8 184.9 238.7 183.3 235.7C181.6 232.7 180.5 229.1 179.6 225.5C178.6 221.7 178.2 217.1 177.7 213.7C177.3 211 176.1 208.3 176.8 206.4C177.4 204.9 179.2 203.9 180.7 203.1C182.3 202.3 186.3 202.1 186.3 201.8C186.3 201.3 181.1 200.9 178.4 200.7C175.7 200.5 173 200.5 170.3 200.4" class="str"/>
<path d="M193.5 291C195.3 290.9 197.1 291.3 198.9 290.7C200.9 289.9 203 288 204.7 286.2C206.5 284.2 207.7 281.7 209.1 278.9C210.8 275.5 212.7 270.4 214.2 267.1C215.3 264.8 216.8 263.4 217.2 261.1C217.7 258.5 217.1 255.1 216.5 252.3C216 249.7 215.4 247.2 214.2 244.8C212.9 242.2 210.8 240.1 209.1 237.5C207.2 234.7 204.6 231.7 203.3 228.5C201.9 225.3 201.5 221.7 200.9 218.2C200.4 214.7 199.5 210.3 200.3 207.6C200.8 205.8 202.1 204.4 203.3 203.4C204.4 202.5 207 202.2 207 201.8C206.9 201.2 202.7 200.9 200.5 200.7C198.2 200.5 195.8 200.5 193.5 200.4" class="str"/>
<path d="M216.8 277.5C219.1 277.1 221.8 277.4 223.7 276.5C225.5 275.7 226.9 274.5 228.1 272.9C229.8 270.7 230.8 266.9 231.9 264.1C232.8 261.6 233.7 259.7 234.2 256.9C234.9 253.3 235.3 247.7 234.9 244.2C234.6 241.6 233.9 239.8 232.8 237.5C231.4 234.7 228.4 231.7 226.8 228.5C225.1 225.3 223.8 221.8 223 218.2C222.3 214.6 221.5 209.6 222.3 207C222.8 205.4 224.1 204.3 225.1 203.4C226 202.6 228.2 202.2 228.1 201.8C228.1 201.2 224.5 200.9 222.6 200.7C220.7 200.5 218.7 200.5 216.8 200.4" class="str"/>
<path d="M32 260.8C34.7 260.8 37.7 261.1 40.1 260.8C42.2 260.5 44.3 260.5 45.7 259.3C47.2 258 48.4 255.1 48.5 253.2C48.6 251.7 47.9 250.6 47.1 249C45.9 246.8 43 244.4 41.3 241.5C39.3 238.1 37.4 233.9 36.1 229.7C34.8 225.1 34.2 219.2 33.8 214.9C33.5 211.7 33.5 208.8 33.6 206.4C33.7 204.7 34.5 202.9 34.1 201.9C33.7 201.1 32.7 200.9 32 200.4" class="rke"/>
<path d="M42.4 265.1C44.4 264.3 46.2 263.3 48.2 262.6C50.4 261.9 54 262.2 55.2 260.8C56.4 259.5 56 256.9 55.9 254.8C55.8 252.4 55.3 250.1 54.5 247.5C53.5 244.3 51.4 240.7 50.1 237.2C48.7 233.8 47.2 230.3 46.4 226.7C45.5 222.9 45.2 218.5 45 214.9C44.8 211.8 44.7 208.8 44.7 206.4C44.8 204.7 45.5 202.9 45 201.9C44.5 201.1 43.3 200.9 42.4 200.4" class="rke"/>
<path d="M54 277.5C54.9 274.8 55.5 272.2 56.6 269.6C57.7 266.8 59 263.5 60.6 261.4C61.8 259.8 63.8 259 64.7 257.8C65.5 256.8 66 256 66.1 254.8C66.4 252.9 65.5 250.1 64.7 247.5C63.9 244.4 62.1 240.7 61 237.2C59.9 233.8 58.9 230.3 58.2 226.7C57.5 222.9 57.1 218.5 56.8 214.9C56.6 211.8 56.6 208.8 56.6 206.4C56.6 204.7 57.4 202.9 56.8 201.9C56.4 201.1 55 200.9 54 200.4" class="rke"/>
<path d="M77.3 291C77.9 290 78.5 289.3 79.1 288C80.1 285.8 81 281.9 81.9 278.9C82.9 275.9 83.7 273 84.7 269.9C85.8 266.5 87.7 262.6 88.2 259.6C88.6 257.3 88.5 255.7 88.4 253.2C88.3 250 88 245.8 87.3 242.1C86.6 238.2 85.1 234.7 84.3 230.6C83.4 225.9 82.9 219.9 82.4 215.5C82 212.1 81.6 208.9 81.5 206.4C81.4 204.7 82.2 202.9 81.5 201.9C80.8 200.9 78.7 200.9 77.3 200.4" class="rke"/>
<path d="M100.5 291C101 290.5 101.5 290.3 101.9 289.5C103 287.6 103.7 282.4 104.9 278.9C106.2 275.4 107.8 271.5 109.4 268.4C110.7 265.6 113 263.3 113.8 261.1C114.4 259.5 114.6 258.2 114.5 256.6C114.3 254.4 112.9 251.7 112.2 249.3C111.4 246.9 110.8 244.6 110.1 242.1C109.3 239.4 108.2 236.4 107.5 233.6C106.8 230.9 106.2 228.6 105.6 225.5C104.9 221.3 103.9 215 103.6 210.7C103.3 207.4 104.3 203.5 103.3 201.9C102.7 200.9 101.5 200.9 100.5 200.4" class="rke"/>
<path d="M123.8 291C124.3 290.5 124.9 290.3 125.4 289.5C126.5 287.6 127.1 282.6 128.4 278.9C129.9 274.7 132.7 269.7 134.2 265.6C135.5 262.4 137.1 259.5 137.3 256.6C137.4 253.9 136.2 251.2 135.4 248.7C134.7 246.4 133.7 244.4 132.8 242.1C131.9 239.4 131 236.4 130.3 233.6C129.6 230.9 129 228.6 128.4 225.5C127.7 221.3 126.6 215 126.3 210.7C126.1 207.4 127.3 203.5 126.3 201.9C125.8 201 124.6 200.9 123.8 200.4" class="rke"/>
<path d="M147 291C147.4 290.5 147.7 290.3 148.2 289.5C149.3 287.6 150.6 282.5 152.4 278.9C154.4 275 157.9 270.2 159.8 267.1C161 265.3 162.4 264.4 162.6 262.6C162.9 260.2 160.7 256.8 159.6 253.9C158.4 250.7 156.9 248 155.9 244.2C154.4 239 153.3 231.4 152.4 225.5C151.5 220.3 150.8 215 150.3 210.7C149.9 207.4 150.3 203.5 149.3 201.9C148.8 201 147.8 200.9 147 200.4" class="rke"/>
<path d="M170.3 291C171.4 290.8 172.8 290.8 173.8 290.4C174.6 290.1 175.2 289.9 175.8 289.2C177.2 287.7 178.3 283.6 179.6 280.4C181.1 276.7 182.9 271.3 184.2 268.4C185 266.6 186.2 265.4 186.3 264.1C186.4 263.1 186 262.4 185.6 261.1C184.9 258.8 183.1 254.6 181.9 251.7C180.9 249.2 179.8 247.5 178.9 244.8C177.7 241.4 176.7 237.5 175.8 233C174.8 227.4 174.2 219.3 173.8 213.7C173.4 209.3 174.3 203.9 173.1 201.9C172.4 200.9 171.2 200.9 170.3 200.4" class="rke"/>
<path d="M193.5 291C195.3 289.4 197 288.1 198.9 286.2C201.2 283.7 204.5 280.9 206.3 277.4C208.3 273.6 209.7 268.3 209.8 264.1C209.9 260.5 208.9 257.3 207.7 253.9C206.4 250 203.5 246.2 201.9 242.1C200.2 237.8 199 233.1 198.2 228.5C197.2 223.7 196.9 218.3 196.5 213.7C196.2 209.5 197 203.9 195.8 201.9C195.3 200.9 194.3 200.9 193.5 200.4" class="rke"/>
<path d="M216.8 277.5C219.1 276.9 221.6 276.9 223.7 275.9C225.9 274.9 228.4 273.5 229.8 271.4C231.4 268.8 231.9 264.4 231.9 261.1C231.8 258.1 230.7 255.4 229.8 252.3C228.8 249 227.2 244.9 226.1 242.1C225.2 240 224.5 238.5 223.7 236.6C222.8 234.5 221.7 232.8 220.9 230C219.8 225.8 219 218.7 218.6 213.7C218.3 209.5 219.6 203.9 218.6 201.9C218.2 201 217.4 200.9 216.8 200.4" class="rke"/>
<rect x="59.6" y="184.3" width="151.4" height="11" class="lg"/>
<circle cx="75.1" cy="189.8" r="1.4" class="lgc"/>
<text x="88.3" y="192.3" class="lt" textLength="13.4" lengthAdjust="spacingAndGlyphs">LES</text>
<path d="M107 189.8H128.8" class="lgb"/>
<text x="132.7" y="192.3" class="lt" textLength="13.6" lengthAdjust="spacingAndGlyphs">RKE</text>
<path d="M149.8 189.8H174" class="lgr"/>
<text x="175.8" y="192.3" class="lt" textLength="27.2" lengthAdjust="spacingAndGlyphs">STRUCT</text>
<text x="203.1" y="192.3" class="lt">-</text>
<text x="205" y="192.4" class="lt eps">ε</text>
<rect x="326.6" y="178" width="210.8" height="114.7" class="fr"/>
<text x="326.6" y="300" class="tl" text-anchor="middle">0</text>
<text x="368.76" y="300" class="tl" text-anchor="middle">2</text>
<text x="410.92" y="300" class="tl" text-anchor="middle">4</text>
<text x="453.08" y="300" class="tl" text-anchor="middle">6</text>
<text x="495.24" y="300" class="tl" text-anchor="middle">8</text>
<text x="537.4" y="300" class="tl" text-anchor="middle">10</text>
<text x="321.9" y="293.5" class="tl" text-anchor="end">0</text>
<text x="321" y="278.21" class="tl" text-anchor="end">0.5</text>
<text x="321.9" y="262.93" class="tl" text-anchor="end">1</text>
<text x="321" y="247.64" class="tl" text-anchor="end">1.5</text>
<text x="321.9" y="232.36" class="tl" text-anchor="end">2</text>
<text x="321" y="217.07" class="tl" text-anchor="end">2.5</text>
<text x="321.9" y="201.79" class="tl" text-anchor="end">3</text>
<text x="321" y="186.5" class="tl" text-anchor="end">3.5</text>
<path d="M326.6 292.7v-2M326.6 178v2M368.76 292.7v-2M368.76 178v2M410.92 292.7v-2M410.92 178v2M453.08 292.7v-2M453.08 178v2M495.24 292.7v-2M495.24 178v2M537.4 292.7v-2M537.4 178v2M326.6 292.7h2M537.4 292.7h-2M326.6 277.41h2M537.4 277.41h-2M326.6 262.13h2M537.4 262.13h-2M326.6 246.84h2M537.4 246.84h-2M326.6 231.56h2M537.4 231.56h-2M326.6 216.27h2M537.4 216.27h-2M326.6 200.99h2M537.4 200.99h-2M326.6 185.7h2M537.4 185.7h-2" class="tk"/>
<path d="M326.6 262.13 L328.5 262.13 L330.39 262.24 L332.29 262.71 L334.19 263.75 L336.09 265.39 L337.98 267.45 L339.88 269.75 L341.78 272.1 L343.67 274.39 L345.57 276.6 L347.47 278.76 L349.37 280.89 L351.26 282.99 L353.16 285.01 L355.06 286.88 L356.96 288.53 L358.85 289.91 L360.75 291.03 L362.65 291.86 L364.54 292.41 L366.44 292.67 L368.34 292.7 L370.24 292.7 L372.13 292.7 L374.03 292.7 L375.93 292.7 L377.82 292.7 L379.72 292.7 L381.62 292.7 L383.52 292.7 L385.41 292.7 L387.31 292.7 L389.21 292.7 L391.1 292.7 L393 292.7 L394.9 292.7 L396.8 292.7 L398.69 292.7 L400.59 292.7 L402.49 292.7 L404.39 292.7 L406.28 292.7 L408.18 292.7 L410.08 292.7 L411.97 292.7 L413.87 292.7 L415.77 292.7 L417.67 292.7 L419.56 292.7 L421.46 292.7 L423.36 292.7 L425.25 292.7 L427.15 292.7 L429.05 292.7 L430.95 292.7 L432.84 292.7 L434.74 292.7 L436.64 292.7 L438.53 292.7 L440.43 292.7 L442.33 292.7 L444.23 292.7 L446.12 292.7 L448.02 292.7 L449.92 292.7 L451.82 292.7 L453.71 292.7 L455.61 292.7 L457.51 292.7 L459.4 292.7 L461.3 292.7 L463.2 292.7 L465.1 292.7 L466.99 292.7 L468.89 292.7 L470.79 292.7 L472.68 292.7 L474.58 292.7 L476.48 292.67 L478.38 292.41 L480.27 291.86 L482.17 291.03 L484.07 289.91 L485.96 288.53 L487.86 286.88 L489.76 285.01 L491.66 282.99 L493.55 280.89 L495.45 278.76 L497.35 276.6 L499.25 274.39 L501.14 272.1 L503.04 269.75 L504.94 267.45 L506.83 265.39 L508.73 263.75 L510.63 262.71 L512.53 262.24 L514.42 262.13 L516.32 262.13M326.6 200.99H516.32V262.13" class="hill"/>
<g class="les"><circle cx="327.65" cy="262.13" r="1.45"/><circle cx="332.51" cy="259.68" r="1.45"/><circle cx="342.27" cy="257.23" r="1.45"/><circle cx="349.29" cy="254.78" r="1.45"/><circle cx="351.97" cy="252.33" r="1.45"/><circle cx="352.95" cy="249.88" r="1.45"/><circle cx="352.69" cy="247.43" r="1.45"/><circle cx="351.6" cy="244.98" r="1.45"/><circle cx="349.53" cy="242.53" r="1.45"/><circle cx="347.05" cy="240.08" r="1.45"/><circle cx="344.99" cy="237.63" r="1.45"/><circle cx="343.46" cy="235.18" r="1.45"/><circle cx="342.13" cy="232.73" r="1.45"/><circle cx="340.91" cy="230.28" r="1.45"/><circle cx="339.76" cy="227.83" r="1.45"/><circle cx="338.62" cy="225.38" r="1.45"/><circle cx="337.6" cy="222.93" r="1.45"/><circle cx="336.66" cy="220.48" r="1.45"/><circle cx="335.69" cy="218.03" r="1.45"/><circle cx="334.59" cy="215.58" r="1.45"/><circle cx="333.31" cy="213.13" r="1.45"/><circle cx="331.97" cy="210.68" r="1.45"/><circle cx="330.73" cy="208.23" r="1.45"/><circle cx="329.65" cy="205.78" r="1.45"/><circle cx="328.63" cy="203.33" r="1.45"/></g>
<g class="les"><circle cx="337.14" cy="266.5" r="1.45"/><circle cx="347.35" cy="264.05" r="1.45"/><circle cx="352.45" cy="261.6" r="1.45"/><circle cx="353.95" cy="259.15" r="1.45"/><circle cx="355.82" cy="256.7" r="1.45"/><circle cx="357.56" cy="254.25" r="1.45"/><circle cx="358.65" cy="251.8" r="1.45"/><circle cx="359.24" cy="249.35" r="1.45"/><circle cx="359.28" cy="246.9" r="1.45"/><circle cx="358.7" cy="244.45" r="1.45"/><circle cx="357.68" cy="242" r="1.45"/><circle cx="356.47" cy="239.55" r="1.45"/><circle cx="355.26" cy="237.1" r="1.45"/><circle cx="353.95" cy="234.65" r="1.45"/><circle cx="352.54" cy="232.2" r="1.45"/><circle cx="351.1" cy="229.75" r="1.45"/><circle cx="349.71" cy="227.3" r="1.45"/><circle cx="348.44" cy="224.85" r="1.45"/><circle cx="347.28" cy="222.4" r="1.45"/><circle cx="346.17" cy="219.95" r="1.45"/><circle cx="345.02" cy="217.5" r="1.45"/><circle cx="343.76" cy="215.05" r="1.45"/><circle cx="342.36" cy="212.6" r="1.45"/><circle cx="340.97" cy="210.15" r="1.45"/><circle cx="339.77" cy="207.7" r="1.45"/><circle cx="338.77" cy="205.25" r="1.45"/><circle cx="337.84" cy="202.8" r="1.45"/></g>
<g class="les"><circle cx="347.68" cy="279" r="1.45"/><circle cx="350.67" cy="276.55" r="1.45"/><circle cx="354.71" cy="274.1" r="1.45"/><circle cx="364.71" cy="271.65" r="1.45"/><circle cx="369.36" cy="269.2" r="1.45"/><circle cx="373.08" cy="266.75" r="1.45"/><circle cx="376.45" cy="264.3" r="1.45"/><circle cx="378.82" cy="261.85" r="1.45"/><circle cx="377.13" cy="259.4" r="1.45"/><circle cx="372.27" cy="256.95" r="1.45"/><circle cx="369.75" cy="254.5" r="1.45"/><circle cx="368.01" cy="252.05" r="1.45"/><circle cx="367.26" cy="249.6" r="1.45"/><circle cx="367.22" cy="247.15" r="1.45"/><circle cx="367.07" cy="244.7" r="1.45"/><circle cx="366.44" cy="242.25" r="1.45"/><circle cx="365.59" cy="239.8" r="1.45"/><circle cx="364.62" cy="237.35" r="1.45"/><circle cx="363.59" cy="234.9" r="1.45"/><circle cx="362.5" cy="232.45" r="1.45"/><circle cx="361.39" cy="230" r="1.45"/><circle cx="360.27" cy="227.55" r="1.45"/><circle cx="359.15" cy="225.1" r="1.45"/><circle cx="357.98" cy="222.65" r="1.45"/><circle cx="356.76" cy="220.2" r="1.45"/><circle cx="355.5" cy="217.75" r="1.45"/><circle cx="354.24" cy="215.3" r="1.45"/><circle cx="352.91" cy="212.85" r="1.45"/><circle cx="351.6" cy="210.4" r="1.45"/><circle cx="350.43" cy="207.95" r="1.45"/><circle cx="349.42" cy="205.5" r="1.45"/><circle cx="348.48" cy="203.05" r="1.45"/></g>
<g class="les"><circle cx="368.76" cy="292.7" r="1.45"/><circle cx="373.9" cy="290.25" r="1.45"/><circle cx="378.42" cy="287.8" r="1.45"/><circle cx="382.6" cy="285.35" r="1.45"/><circle cx="386.51" cy="282.9" r="1.45"/><circle cx="390.37" cy="280.45" r="1.45"/><circle cx="395.61" cy="278" r="1.45"/><circle cx="400.2" cy="275.55" r="1.45"/><circle cx="403.49" cy="273.1" r="1.45"/><circle cx="404.99" cy="270.65" r="1.45"/><circle cx="405.64" cy="268.2" r="1.45"/><circle cx="405.52" cy="265.75" r="1.45"/><circle cx="404.39" cy="263.3" r="1.45"/><circle cx="402.5" cy="260.85" r="1.45"/><circle cx="399.53" cy="258.4" r="1.45"/><circle cx="394.4" cy="255.95" r="1.45"/><circle cx="390.04" cy="253.5" r="1.45"/><circle cx="388.48" cy="251.05" r="1.45"/><circle cx="387.35" cy="248.6" r="1.45"/><circle cx="386.37" cy="246.15" r="1.45"/><circle cx="385.43" cy="243.7" r="1.45"/><circle cx="384.7" cy="241.25" r="1.45"/><circle cx="384.05" cy="238.8" r="1.45"/><circle cx="383.37" cy="236.35" r="1.45"/><circle cx="382.5" cy="233.9" r="1.45"/><circle cx="381.42" cy="231.45" r="1.45"/><circle cx="380.24" cy="229" r="1.45"/><circle cx="379.06" cy="226.55" r="1.45"/><circle cx="377.98" cy="224.1" r="1.45"/><circle cx="376.96" cy="221.65" r="1.45"/><circle cx="375.96" cy="219.2" r="1.45"/><circle cx="374.96" cy="216.75" r="1.45"/><circle cx="373.94" cy="214.3" r="1.45"/><circle cx="372.91" cy="211.85" r="1.45"/><circle cx="371.89" cy="209.4" r="1.45"/><circle cx="370.91" cy="206.95" r="1.45"/><circle cx="370.01" cy="204.5" r="1.45"/><circle cx="369.14" cy="202.05" r="1.45"/></g>
<g class="les"><circle cx="389.84" cy="292.7" r="1.45"/><circle cx="400.39" cy="290.25" r="1.45"/><circle cx="407.3" cy="287.8" r="1.45"/><circle cx="413.08" cy="285.35" r="1.45"/><circle cx="418.36" cy="282.9" r="1.45"/><circle cx="422.07" cy="280.45" r="1.45"/><circle cx="424.88" cy="278" r="1.45"/><circle cx="426.83" cy="275.55" r="1.45"/><circle cx="427.64" cy="273.1" r="1.45"/><circle cx="427.61" cy="270.65" r="1.45"/><circle cx="426.95" cy="268.2" r="1.45"/><circle cx="425.08" cy="265.75" r="1.45"/><circle cx="421.22" cy="263.3" r="1.45"/><circle cx="418" cy="260.85" r="1.45"/><circle cx="415.14" cy="258.4" r="1.45"/><circle cx="412.98" cy="255.95" r="1.45"/><circle cx="411.54" cy="253.5" r="1.45"/><circle cx="410.44" cy="251.05" r="1.45"/><circle cx="409.49" cy="248.6" r="1.45"/><circle cx="408.55" cy="246.15" r="1.45"/><circle cx="407.75" cy="243.7" r="1.45"/><circle cx="406.99" cy="241.25" r="1.45"/><circle cx="406.07" cy="238.8" r="1.45"/><circle cx="404.97" cy="236.35" r="1.45"/><circle cx="403.77" cy="233.9" r="1.45"/><circle cx="402.53" cy="231.45" r="1.45"/><circle cx="401.31" cy="229" r="1.45"/><circle cx="400.14" cy="226.55" r="1.45"/><circle cx="399.06" cy="224.1" r="1.45"/><circle cx="398.04" cy="221.65" r="1.45"/><circle cx="397.05" cy="219.2" r="1.45"/><circle cx="396.09" cy="216.75" r="1.45"/><circle cx="395.13" cy="214.3" r="1.45"/><circle cx="394.17" cy="211.85" r="1.45"/><circle cx="393.19" cy="209.4" r="1.45"/><circle cx="392.21" cy="206.95" r="1.45"/><circle cx="391.24" cy="204.5" r="1.45"/><circle cx="390.26" cy="202.05" r="1.45"/></g>
<g class="les"><circle cx="410.92" cy="292.7" r="1.45"/><circle cx="424.26" cy="290.25" r="1.45"/><circle cx="429.75" cy="287.8" r="1.45"/><circle cx="434.18" cy="285.35" r="1.45"/><circle cx="438.13" cy="282.9" r="1.45"/><circle cx="441.12" cy="280.45" r="1.45"/><circle cx="442.99" cy="278" r="1.45"/><circle cx="444.2" cy="275.55" r="1.45"/><circle cx="444.67" cy="273.1" r="1.45"/><circle cx="444.02" cy="270.65" r="1.45"/><circle cx="442.27" cy="268.2" r="1.45"/><circle cx="440.39" cy="265.75" r="1.45"/><circle cx="438.81" cy="263.3" r="1.45"/><circle cx="437.21" cy="260.85" r="1.45"/><circle cx="435.62" cy="258.4" r="1.45"/><circle cx="434.07" cy="255.95" r="1.45"/><circle cx="432.55" cy="253.5" r="1.45"/><circle cx="431.04" cy="251.05" r="1.45"/><circle cx="429.57" cy="248.6" r="1.45"/><circle cx="428.15" cy="246.15" r="1.45"/><circle cx="426.78" cy="243.7" r="1.45"/><circle cx="425.46" cy="241.25" r="1.45"/><circle cx="424.2" cy="238.8" r="1.45"/><circle cx="423.03" cy="236.35" r="1.45"/><circle cx="421.93" cy="233.9" r="1.45"/><circle cx="420.88" cy="231.45" r="1.45"/><circle cx="419.91" cy="229" r="1.45"/><circle cx="419" cy="226.55" r="1.45"/><circle cx="418.17" cy="224.1" r="1.45"/><circle cx="417.44" cy="221.65" r="1.45"/><circle cx="416.76" cy="219.2" r="1.45"/><circle cx="416.1" cy="216.75" r="1.45"/><circle cx="415.44" cy="214.3" r="1.45"/><circle cx="414.73" cy="211.85" r="1.45"/><circle cx="413.95" cy="209.4" r="1.45"/><circle cx="413.09" cy="206.95" r="1.45"/><circle cx="412.2" cy="204.5" r="1.45"/><circle cx="411.3" cy="202.05" r="1.45"/></g>
<g class="les"><circle cx="432" cy="292.7" r="1.45"/><circle cx="445.97" cy="290.25" r="1.45"/><circle cx="451.46" cy="287.8" r="1.45"/><circle cx="454.42" cy="285.35" r="1.45"/><circle cx="456.61" cy="282.9" r="1.45"/><circle cx="458.34" cy="280.45" r="1.45"/><circle cx="459.69" cy="278" r="1.45"/><circle cx="460.72" cy="275.55" r="1.45"/><circle cx="461.38" cy="273.1" r="1.45"/><circle cx="461.64" cy="270.65" r="1.45"/><circle cx="461.51" cy="268.2" r="1.45"/><circle cx="460.94" cy="265.75" r="1.45"/><circle cx="459.97" cy="263.3" r="1.45"/><circle cx="458.68" cy="260.85" r="1.45"/><circle cx="457.01" cy="258.4" r="1.45"/><circle cx="455.19" cy="255.95" r="1.45"/><circle cx="453.44" cy="253.5" r="1.45"/><circle cx="451.89" cy="251.05" r="1.45"/><circle cx="450.44" cy="248.6" r="1.45"/><circle cx="449.01" cy="246.15" r="1.45"/><circle cx="447.57" cy="243.7" r="1.45"/><circle cx="446.01" cy="241.25" r="1.45"/><circle cx="444.45" cy="238.8" r="1.45"/><circle cx="443.07" cy="236.35" r="1.45"/><circle cx="441.89" cy="233.9" r="1.45"/><circle cx="440.83" cy="231.45" r="1.45"/><circle cx="439.87" cy="229" r="1.45"/><circle cx="439" cy="226.55" r="1.45"/><circle cx="438.23" cy="224.1" r="1.45"/><circle cx="437.59" cy="221.65" r="1.45"/><circle cx="437.02" cy="219.2" r="1.45"/><circle cx="436.48" cy="216.75" r="1.45"/><circle cx="435.93" cy="214.3" r="1.45"/><circle cx="435.34" cy="211.85" r="1.45"/><circle cx="434.66" cy="209.4" r="1.45"/><circle cx="433.92" cy="206.95" r="1.45"/><circle cx="433.13" cy="204.5" r="1.45"/><circle cx="432.34" cy="202.05" r="1.45"/></g>
<g class="les"><circle cx="453.08" cy="292.7" r="1.45"/><circle cx="457.93" cy="290.25" r="1.45"/><circle cx="462.66" cy="287.8" r="1.45"/><circle cx="467" cy="285.35" r="1.45"/><circle cx="470.15" cy="282.9" r="1.45"/><circle cx="472.77" cy="280.45" r="1.45"/><circle cx="474.81" cy="278" r="1.45"/><circle cx="476.21" cy="275.55" r="1.45"/><circle cx="477.23" cy="273.1" r="1.45"/><circle cx="477.97" cy="270.65" r="1.45"/><circle cx="478.34" cy="268.2" r="1.45"/><circle cx="478.11" cy="265.75" r="1.45"/><circle cx="477.57" cy="263.3" r="1.45"/><circle cx="476.85" cy="260.85" r="1.45"/><circle cx="476.04" cy="258.4" r="1.45"/><circle cx="475.19" cy="255.95" r="1.45"/><circle cx="474.26" cy="253.5" r="1.45"/><circle cx="473.26" cy="251.05" r="1.45"/><circle cx="472.16" cy="248.6" r="1.45"/><circle cx="470.9" cy="246.15" r="1.45"/><circle cx="469.49" cy="243.7" r="1.45"/><circle cx="468.02" cy="241.25" r="1.45"/><circle cx="466.56" cy="238.8" r="1.45"/><circle cx="465.2" cy="236.35" r="1.45"/><circle cx="463.94" cy="233.9" r="1.45"/><circle cx="462.71" cy="231.45" r="1.45"/><circle cx="461.56" cy="229" r="1.45"/><circle cx="460.55" cy="226.55" r="1.45"/><circle cx="459.69" cy="224.1" r="1.45"/><circle cx="459" cy="221.65" r="1.45"/><circle cx="458.39" cy="219.2" r="1.45"/><circle cx="457.83" cy="216.75" r="1.45"/><circle cx="457.27" cy="214.3" r="1.45"/><circle cx="456.65" cy="211.85" r="1.45"/><circle cx="455.93" cy="209.4" r="1.45"/><circle cx="455.13" cy="206.95" r="1.45"/><circle cx="454.29" cy="204.5" r="1.45"/><circle cx="453.44" cy="202.05" r="1.45"/></g>
<g class="les"><circle cx="474.16" cy="292.7" r="1.45"/><circle cx="478.38" cy="290.25" r="1.45"/><circle cx="482.13" cy="287.8" r="1.45"/><circle cx="485.56" cy="285.35" r="1.45"/><circle cx="488.94" cy="282.9" r="1.45"/><circle cx="491.92" cy="280.45" r="1.45"/><circle cx="494.28" cy="278" r="1.45"/><circle cx="496.36" cy="275.55" r="1.45"/><circle cx="497.98" cy="273.1" r="1.45"/><circle cx="498.9" cy="270.65" r="1.45"/><circle cx="499.04" cy="268.2" r="1.45"/><circle cx="498.66" cy="265.75" r="1.45"/><circle cx="498.1" cy="263.3" r="1.45"/><circle cx="497.53" cy="260.85" r="1.45"/><circle cx="496.83" cy="258.4" r="1.45"/><circle cx="496.02" cy="255.95" r="1.45"/><circle cx="495.08" cy="253.5" r="1.45"/><circle cx="494.01" cy="251.05" r="1.45"/><circle cx="492.71" cy="248.6" r="1.45"/><circle cx="491.23" cy="246.15" r="1.45"/><circle cx="489.61" cy="243.7" r="1.45"/><circle cx="487.92" cy="241.25" r="1.45"/><circle cx="485.92" cy="238.8" r="1.45"/><circle cx="484.19" cy="236.35" r="1.45"/><circle cx="482.92" cy="233.9" r="1.45"/><circle cx="481.87" cy="231.45" r="1.45"/><circle cx="480.95" cy="229" r="1.45"/><circle cx="480.11" cy="226.55" r="1.45"/><circle cx="479.33" cy="224.1" r="1.45"/><circle cx="478.66" cy="221.65" r="1.45"/><circle cx="478.05" cy="219.2" r="1.45"/><circle cx="477.48" cy="216.75" r="1.45"/><circle cx="476.94" cy="214.3" r="1.45"/><circle cx="476.4" cy="211.85" r="1.45"/><circle cx="475.86" cy="209.4" r="1.45"/><circle cx="475.35" cy="206.95" r="1.45"/><circle cx="474.86" cy="204.5" r="1.45"/><circle cx="474.37" cy="202.05" r="1.45"/></g>
<g class="les"><circle cx="495.24" cy="279" r="1.45"/><circle cx="505.87" cy="276.55" r="1.45"/><circle cx="511.09" cy="274.1" r="1.45"/><circle cx="514.22" cy="271.65" r="1.45"/><circle cx="516.15" cy="269.2" r="1.45"/><circle cx="517.5" cy="266.75" r="1.45"/><circle cx="518.46" cy="264.3" r="1.45"/><circle cx="519.04" cy="261.85" r="1.45"/><circle cx="519.36" cy="259.4" r="1.45"/><circle cx="519.53" cy="256.95" r="1.45"/><circle cx="519.58" cy="254.5" r="1.45"/><circle cx="519.47" cy="252.05" r="1.45"/><circle cx="519.12" cy="249.6" r="1.45"/><circle cx="518.43" cy="247.15" r="1.45"/><circle cx="517.25" cy="244.7" r="1.45"/><circle cx="515.71" cy="242.25" r="1.45"/><circle cx="514.01" cy="239.8" r="1.45"/><circle cx="512.38" cy="237.35" r="1.45"/><circle cx="510.73" cy="234.9" r="1.45"/><circle cx="508.99" cy="232.45" r="1.45"/><circle cx="507.31" cy="230" r="1.45"/><circle cx="505.79" cy="227.55" r="1.45"/><circle cx="504.47" cy="225.1" r="1.45"/><circle cx="503.28" cy="222.65" r="1.45"/><circle cx="502.18" cy="220.2" r="1.45"/><circle cx="501.14" cy="217.75" r="1.45"/><circle cx="500.14" cy="215.3" r="1.45"/><circle cx="499.19" cy="212.85" r="1.45"/><circle cx="498.31" cy="210.4" r="1.45"/><circle cx="497.49" cy="207.95" r="1.45"/><circle cx="496.7" cy="205.5" r="1.45"/><circle cx="495.92" cy="203.05" r="1.45"/></g>
<path d="M327.7 262.1C331.4 261.1 335.3 260.1 339 259.1C342.7 258.1 347.3 257.5 349.8 256C351.6 254.9 352.9 253.5 353.6 252C354.2 250.8 354.4 249.3 354 248.1C353.6 246.7 352 245.6 350.8 244.1C349.3 242.2 347.2 240.2 345.6 237.7C343.5 234.5 341.7 229.8 340.1 226.1C338.6 222.7 337.5 219.3 336.1 216.3C334.8 213.5 333.3 211.2 331.9 208.6C330.5 206.1 329.1 203.5 327.7 201" class="str"/>
<path d="M337.1 266.5C340.7 265.8 344.1 264.9 347.7 264.3C351.2 263.6 358 263.6 358.4 262.4C358.6 261.9 357.4 260.9 356.5 260.3C355.4 259.5 352.3 259.5 351.9 258.5C351.5 257.5 353 255.9 354 254.5C355.3 252.6 358.3 250.4 359.3 248.4C360.1 246.8 360.5 245.5 360.3 243.8C360.1 241.2 357.8 237.6 356.1 234.6C354.4 231.6 352 229.1 350.2 226.1C348.4 223 347.1 219.3 345.6 216.3C344.2 213.5 342.8 211.2 341.4 208.6C340 206.1 338.5 203.5 337.1 201" class="str"/>
<path d="M347.7 279C350.1 277.7 352.4 276.1 355.1 275C358.1 273.7 361.4 273.1 365 271.9C369.3 270.5 374.8 268.8 379.1 267C382.7 265.5 389 263.7 389 262.1C389 260.6 382.3 258.9 379.1 257.9C376.3 256.9 372.7 257.5 370.9 256C369.2 254.7 368.5 252.2 367.9 249.9C367.3 247.4 368.4 244.8 367.7 241.6C366.7 237.2 363.1 230.6 361 226.1C359.2 222.4 357.5 219.3 355.9 216.3C354.5 213.6 353.3 211.2 351.9 208.6C350.5 206.1 349.1 203.5 347.7 201" class="str"/>
<path d="M368.8 292.7C371.5 291.5 374.3 290.4 377 289C379.7 287.7 382.2 286.4 385 284.8C388.3 282.8 391.8 280.3 395.3 277.7C399.3 274.9 404.5 271.4 407.5 268.2C409.8 265.9 412.8 263.2 412.6 261.2C412.4 259.5 409.6 258.5 407.5 256.9C404.4 254.5 398.6 251.7 395.3 248.4C392.4 245.3 391 241.3 388.6 238C386.2 234.7 383 231.9 381 228.5C379 225.2 378 221.6 376.6 218.1C375.1 214.6 373.6 210.8 372.1 207.7C371 205.2 369.9 203.2 368.8 201" class="str"/>
<path d="M389.8 292.7C391.9 292.3 394.1 292 396.2 291.5C398.2 291 399.7 290.5 402.3 289.6C406.6 288.3 414.5 286.3 419.6 283.8C424.1 281.6 428.9 278.6 431.6 275.9C433.4 274 435.2 272.1 435.2 270.1C435.1 268 432.4 265.6 430.9 263.7C429.6 261.9 428.5 260.6 426.5 258.8C423.3 255.8 415.9 252.3 412.6 248.4C409.9 245.1 409 241.4 407.1 237.7C405.1 233.7 402.6 229.8 400.6 225.4C398.4 220.8 396.6 215.1 394.7 210.8C393.1 207.1 391.5 204.3 389.8 201" class="str"/>
<path d="M410.9 292.7C413.7 292.5 416.5 292.3 419.4 292.1C422.3 291.9 425.4 292.4 428.2 291.5C431.2 290.5 434 288 436.8 286.3C439.7 284.5 443.6 283.2 445.5 281.1C447 279.3 447.8 277 448 275C448.3 273 448 271.3 447.2 269.2C446 266.1 443 262.2 440.2 258.8C436.9 254.7 430.9 250.5 428.2 246.5C426.2 243.5 425.7 240.9 424.4 237.7C422.9 233.9 421.2 229.7 419.8 225.4C418.2 220.8 417 215.1 415.3 210.8C414 207.1 412.4 204.3 410.9 201" class="str"/>
<path d="M432 292.7C434.8 292.5 437.6 292.5 440.4 292.1C443.3 291.7 446.1 291.4 448.9 290.3C451.8 289.1 454.8 287.2 457.3 285.1C459.8 282.9 462.1 280 463.6 277.4C464.9 275.2 466.1 273 466.1 270.7C466.2 268.4 464.9 266.1 463.6 263.7C462.1 260.7 459.4 257.5 457.3 254.5C455.2 251.4 452.8 247.5 451 245.3C449.8 243.9 448.9 243.4 447.8 242.3C446.6 240.9 445.2 239.5 444 237.4C442.3 234.4 440.9 229.7 439.6 225.4C438.2 220.8 437.4 215.1 436 210.8C434.8 207.1 433.3 204.3 432 201" class="str"/>
<path d="M453.1 292.7C455.4 292.1 457.6 291.7 460 290.9C462.7 290 465.6 288.8 468.3 287.5C471.1 286.1 474.2 284.4 476.5 282.6C478.5 281.1 480.5 279.5 481.5 277.7C482.5 276.2 483 274.9 483 272.8C483 269.2 479.9 262.2 478.2 257.9C476.8 254.3 475.2 251.1 473.7 248.4C472.5 246.1 471.3 244.3 469.9 242.3C468.6 240.2 467.1 238.5 465.7 236.1C464.1 233.1 462.4 229.4 461.1 225.4C459.6 221 458.8 215.1 457.3 210.8C456 207.1 454.5 204.3 453.1 201" class="str"/>
<path d="M474.2 292.7C474.4 292.6 474.5 292.6 474.8 292.4C476 291.8 480.1 289.3 483 287.5C486.2 285.5 490.7 283.3 493.1 281.1C495 279.4 496.2 277.9 497.1 275.9C498.2 273.6 498.8 270.8 498.8 267.9C498.9 264.8 498.1 261.2 497.1 257.9C496.2 254.4 494.8 250.4 493.1 247.8C491.9 245.8 490.2 244.9 488.9 243.2C487.6 241.4 486.5 239.7 485.3 237.4C483.8 234.2 482.2 229.7 480.9 225.4C479.5 220.8 478.3 215.2 477.1 210.8C476.1 207.2 475.1 204.3 474.2 201" class="str"/>
<path d="M495.2 279C497.3 279.1 499.2 279.6 501.4 279.2C503.9 278.8 506.9 277.2 509.6 275.9C512.4 274.5 515.5 272.8 517.8 271C519.8 269.5 522 268.1 522.9 266.1C523.7 264.2 523.1 261.6 522.9 259.4C522.6 257.2 521.9 255.2 521.2 253C520.4 250.5 519.7 247.8 518.4 245.3C517.1 242.5 515 239.9 513.2 237.1C511.1 233.9 508.4 230.7 506.4 227C504.2 223 502.4 218.2 500.5 213.8C498.7 209.5 497 205.3 495.2 201" class="str"/>
<path d="M327.7 262.1C331.4 261.8 335.3 261.5 339 261.2C342.6 260.9 346.7 261.2 349.4 260.3C351.3 259.7 352.7 258.9 354 257.5C355.4 256 357.1 253.5 357.2 251.4C357.2 249.5 355.9 247.4 354.6 245.6C353.3 243.7 351.2 242.3 349.4 240.4C347.3 238.3 344.9 236.1 342.8 233.7C340.7 231.3 338.6 228.9 336.9 226.1C335.2 223.1 334 219.5 332.9 216.3C332 213.4 330.4 209.8 330.8 207.7C331.1 206.4 332.1 205.7 332.9 204.7C333.8 203.6 336.3 202.1 336.1 201.4C335.7 200.5 330.5 201.1 327.7 201" class="rke"/>
<path d="M337.1 266.5C339.7 265.7 342.2 264.7 344.9 264C347.8 263.2 351.5 263.4 354 262.1C356.2 261.1 357.8 259.4 359.3 257.5C360.9 255.5 362.8 252.3 362.9 249.9C362.9 247.8 361.6 245.8 360.3 243.8C358.8 241.3 356.1 238.9 354 236.1C351.8 233.1 349.3 229.5 347.5 226.1C345.8 222.8 344.5 219.5 343.5 216.3C342.5 213.4 341 209.8 341.4 207.7C341.6 206.4 342.7 205.7 343.5 204.7C344.3 203.6 346.3 202.1 346 201.4C345.5 200.4 340.1 201.1 337.1 201" class="rke"/>
<path d="M347.7 279C348.1 277.4 348 275.7 348.9 274.1C350.1 272 352.6 269.6 355.1 267.9C357.8 266.1 361.8 265 365 264C367.7 263.1 372.6 263.3 373 262.1C373.3 261.1 370.2 259.5 369 257.9C367.7 256 366.2 253.7 365.6 251.4C365 249.1 366.2 246.8 365.6 243.8C364.6 239 359.9 231.1 357.8 226.1C356.3 222.3 355 219.5 354 216.3C353.1 213.4 351.5 209.8 351.9 207.7C352.1 206.4 353.3 205.7 354 204.7C354.8 203.6 356.8 202.1 356.5 201.4C356.1 200.4 350.6 201.1 347.7 201" class="rke"/>
<path d="M368.8 292.7C371.5 290.5 374.6 288.7 377 286C379.4 283.2 381 279.2 383.1 276.2C385 273.4 387.5 270.8 389 268.2C390.3 266.1 392.1 264.1 391.9 262.1C391.8 260 388.9 258.2 387.7 256C386.5 253.7 385.4 250.6 384.6 248.4C384 246.8 383.6 245.9 383.1 244.1C382.3 241.2 382.1 236.5 381 232.8C379.8 228.9 377.2 225 375.9 221.2C374.7 217.7 373.5 213.2 373.4 210.8C373.3 209.5 373.5 208.7 373.8 207.7C374.1 206.7 374.5 205.7 375.1 204.7C375.7 203.6 377.7 202.1 377.4 201.4C376.9 200.4 371.6 201.1 368.8 201" class="rke"/>
<path d="M389.8 292.7C391.7 291.7 393.2 290.9 395.3 289.6C398.2 287.9 402.5 285.5 405.6 282.9C408.8 280.4 412.6 277.5 414.5 274.4C416.1 271.6 417.1 268.2 417 265.5C416.9 263.1 415.4 261.2 414.5 258.8C413.4 256 412.1 252.7 410.9 249.9C409.8 247.3 409.1 245.1 407.8 242.3C406.1 238.6 403.3 234.4 401.4 230C399.4 225.4 397.4 219.2 396.2 215.1C395.3 212.2 394.2 209.6 394.5 207.7C394.7 206.4 395.5 205.7 396.2 204.7C396.9 203.6 399 202.1 398.7 201.4C398.2 200.4 392.8 201.1 389.8 201" class="rke"/>
<path d="M410.9 292.7C413 291.9 415 291.3 417.2 290.3C419.9 288.9 423.5 287.4 425.7 285.1C428 282.6 429.2 278.9 430.5 275.6C431.9 272.2 433.6 268.2 433.7 264.9C433.8 262.1 432.3 259.6 432 257.2C431.7 255.3 432.3 253.7 431.6 251.7C430.5 248.8 426.1 245.4 424.4 242C422.8 238.7 422.5 235.4 421.5 231.6C420.2 227 418.4 220.6 417.2 216.3C416.4 213 414.8 209.8 415.1 207.7C415.4 206.4 416.5 205.7 417.2 204.7C418 203.6 420.1 202.1 419.8 201.4C419.3 200.4 413.9 201.1 410.9 201" class="rke"/>
<path d="M432 292.7C434.8 292.2 437.5 292.1 440.4 291.2C443.8 290.1 447.9 288.7 451 286.6C453.9 284.6 456.6 281.5 458.4 278.9C459.7 276.8 460.7 274.8 461.1 272.5C461.5 270.2 461.2 267.7 460.5 265.2C459.5 262.2 456.9 259.1 455.2 256C453.4 253 451.9 249 449.9 246.8C448.5 245.3 446.7 245.4 445.5 243.8C443.6 241.2 442.8 235.9 441.5 231.6C440 226.8 438.2 220.7 437.3 216.3C436.5 213 435.3 209.8 435.8 207.7C436.1 206.4 437.2 205.7 437.9 204.7C438.7 203.6 440.7 202.1 440.4 201.4C440 200.5 434.8 201.1 432 201" class="rke"/>
<path d="M453.1 292.7C456.6 291.2 460.4 290 463.6 288.1C466.7 286.4 469.5 284.6 472.1 282C475 279.1 479.2 274.9 479.9 271C480.5 267.3 477.8 263 476.5 259.4C475.2 256 473.8 252.6 472.1 249.9C470.6 247.5 468.4 246.3 467 243.8C465.1 240.5 463.9 235.9 462.6 231.6C461 226.8 459.3 220.7 458.4 216.3C457.6 213 456.4 209.8 456.9 207.7C457.2 206.4 458.2 205.7 459 204.7C459.8 203.6 461.8 202.1 461.5 201.4C461.1 200.5 455.9 201.1 453.1 201" class="rke"/>
<path d="M474.2 292.7C474.9 292.2 475.3 291.8 476.3 291.2C478.6 289.7 484.7 287.1 488.1 284.4C491.3 282 494.5 279.2 496.3 275.9C498.1 272.5 499.2 267.9 498.8 264.3C498.5 260.8 496.3 257.7 494.6 254.5C492.8 251.2 490 247.9 488.3 244.7C486.8 241.8 485.6 239.2 484.7 236.1C483.7 232.8 483.6 229.1 482.6 225.4C481.5 221.5 479.2 216.5 478.4 213.2C477.8 211.1 477.2 209.2 477.5 207.7C477.8 206.5 478.9 205.7 479.6 204.7C480.4 203.6 482.5 202.1 482.2 201.4C481.7 200.5 476.8 201.1 474.2 201" class="rke"/>
<path d="M495.2 279C499.5 278.3 504.6 278.6 507.9 276.8C510.8 275.2 512.8 272.4 514.4 269.5C516.2 266.2 517.6 261.6 517.8 257.9C518 254.4 517.2 250.9 516.1 247.8C515 244.7 513.1 241.7 511 239.2C509 236.7 505.5 235.6 503.7 232.8C501.4 229.3 500.4 223.7 499.5 219.3C498.6 215.4 497.5 210.3 498.2 207.7C498.6 206.3 499.5 205.7 500.3 204.7C501.1 203.6 503.1 202.1 502.8 201.4C502.4 200.5 497.8 201.1 495.2 201" class="rke"/>
<rect x="356.2" y="184.4" width="152.3" height="11.4" class="lg"/>
<circle cx="371.7" cy="190.1" r="1.4" class="lgc"/>
<text x="382.4" y="192.6" class="lt" textLength="13.4" lengthAdjust="spacingAndGlyphs">LES</text>
<path d="M403.6 190.1H425.4" class="lgb"/>
<text x="429.3" y="192.6" class="lt" textLength="13.6" lengthAdjust="spacingAndGlyphs">RKE</text>
<path d="M446.4 190.1H470.6" class="lgr"/>
<text x="472.4" y="192.6" class="lt" textLength="27.2" lengthAdjust="spacingAndGlyphs">STRUCT</text>
<text x="499.7" y="192.6" class="lt">-</text>
<text x="501.6" y="192.7" class="lt eps">ε</text>
<text class="ax yl" transform="translate(13.2,67.7) rotate(-90)" text-anchor="middle">y/H</text>
<text class="ax yl" transform="translate(310.3,67.7) rotate(-90)" text-anchor="middle">y/H</text>
<text class="ax yl" transform="translate(13.6,234.8) rotate(-90)" text-anchor="middle">y/H</text>
<text class="ax yl" transform="translate(310,234.5) rotate(-90)" text-anchor="middle">y/H</text>
<text class="ax" x="109.7" y="143.3">x</text>
<text class="ax" x="114.7" y="143.3">/</text>
<text class="ax" x="117.9" y="143.3">H</text>
<text class="ax" x="126.9" y="143.2" style="font-size:6.6px">+</text>
<text class="ax" x="135.5" y="143.3">u</text>
<text class="ax" x="139.2" y="144.9" style="font-size:5px">1</text>
<text class="ax" x="143.6" y="143.3">/</text>
<text class="ax" x="146.6" y="143.3">U</text>
<text class="ax" x="153.4" y="144.9" style="font-size:5px">b</text>
<path d="M135.6 138.2H141.6" class="ol"/>
<text class="ax" x="408" y="143.3">x</text>
<text class="ax" x="413" y="143.3">/</text>
<text class="ax" x="416.2" y="143.3">H</text>
<text class="ax" x="424.9" y="143.2" style="font-size:6.6px">+</text>
<text class="ax" x="431.3" y="143.3" style="font-size:6px">5</text>
<text class="ax" x="435.4" y="143.3">u</text>
<text class="ax" x="438.9" y="144.9" style="font-size:5px">2</text>
<text class="ax" x="442.4" y="143.3">/</text>
<text class="ax" x="445.8" y="143.3">U</text>
<text class="ax" x="452.8" y="144.9" style="font-size:5px">b</text>
<path d="M435.3 138.1H441.3" class="ol"/>
<text class="ax" x="100.5" y="309.4">x</text>
<text class="ax" x="105.5" y="309.4">/</text>
<text class="ax" x="109" y="309.4">H</text>
<text class="ax" x="118.1" y="309.3" style="font-size:6.6px">+</text>
<text class="ax" x="124.8" y="309.4">20</text>
<text class="ax" x="135" y="309.4">u</text>
<text class="ax" x="138.6" y="307.1" style="font-size:5px">′</text>
<text class="ax" x="138.4" y="311" style="font-size:5px">1</text>
<text class="ax" x="142.4" y="309.4">u</text>
<text class="ax" x="146" y="307.1" style="font-size:5px">′</text>
<text class="ax" x="145.8" y="311" style="font-size:5px">1</text>
<text class="ax" x="152" y="309.4">/</text>
<text class="ax" x="155.6" y="309.4">U</text>
<text class="ax" x="162" y="311.2" style="font-size:5px">b</text>
<text class="ax" x="162.2" y="305.8" style="font-size:5px">2</text>
<path d="M135 303.2H153" class="ol"/>
<text class="ax" x="400.5" y="309.4">x</text>
<text class="ax" x="405.5" y="309.4">/</text>
<text class="ax" x="408.7" y="309.4">H</text>
<text class="ax" x="418.1" y="309.3" style="font-size:6.6px">+</text>
<text class="ax" x="424.8" y="309.4">40</text>
<text class="ax" x="435" y="309.4">u</text>
<text class="ax" x="438.6" y="307.1" style="font-size:5px">′</text>
<text class="ax" x="438.4" y="311" style="font-size:5px">2</text>
<text class="ax" x="442.4" y="309.4">u</text>
<text class="ax" x="446" y="307.1" style="font-size:5px">′</text>
<text class="ax" x="445.8" y="311" style="font-size:5px">2</text>
<text class="ax" x="452.8" y="309.4">/</text>
<text class="ax" x="456.4" y="309.4">U</text>
<text class="ax" x="462.6" y="311.2" style="font-size:5px">b</text>
<text class="ax" x="462.8" y="305.8" style="font-size:5px">2</text>
<path d="M434.8 303.2H453.5" class="ol"/>
<text class="cap" x="123.5" y="165.4" text-anchor="middle"><tspan class="pn">(</tspan>a<tspan class="pn">)</tspan></text>
<text class="cap" x="420.6" y="165.5" text-anchor="middle"><tspan class="pn">(</tspan>b<tspan class="pn">)</tspan></text>
<text class="cap" x="123.6" y="331.0" text-anchor="middle"><tspan class="pn">(</tspan>c<tspan class="pn">)</tspan></text>
<text class="cap" x="420.3" y="331.6" text-anchor="middle"><tspan class="pn">(</tspan>d<tspan class="pn">)</tspan></text>
</svg></body></html>
